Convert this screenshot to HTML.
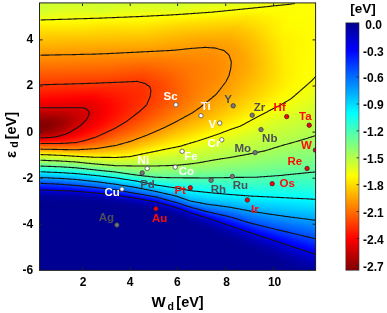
<!DOCTYPE html>
<html><head><meta charset="utf-8"><style>
html,body{margin:0;padding:0;background:#fff;width:387px;height:313px;overflow:hidden}
#hm{position:absolute;left:40px;top:3px;width:276px;height:267px}
#hm i{display:block;height:1px;width:100%}
#cb{position:absolute;left:346px;top:22.8px;width:13px;height:247.5px;background:linear-gradient(180deg,#00008f 0.00%,#00009f 1.59%,#0000af 3.17%,#0000bf 4.76%,#0000cf 6.35%,#0000df 7.94%,#0000ef 9.52%,#0000ff 11.11%,#0010ff 12.70%,#0020ff 14.29%,#0030ff 15.87%,#0040ff 17.46%,#0050ff 19.05%,#0060ff 20.63%,#0070ff 22.22%,#0080ff 23.81%,#008fff 25.40%,#009fff 26.98%,#00afff 28.57%,#00bfff 30.16%,#00cfff 31.75%,#00dfff 33.33%,#00efff 34.92%,#00ffff 36.51%,#10ffef 38.10%,#20ffdf 39.68%,#30ffcf 41.27%,#40ffbf 42.86%,#50ffaf 44.44%,#60ff9f 46.03%,#70ff8f 47.62%,#80ff80 49.21%,#8fff70 50.79%,#9fff60 52.38%,#afff50 53.97%,#bfff40 55.56%,#cfff30 57.14%,#dfff20 58.73%,#efff10 60.32%,#ffff00 61.90%,#ffef00 63.49%,#ffdf00 65.08%,#ffcf00 66.67%,#ffbf00 68.25%,#ffaf00 69.84%,#ff9f00 71.43%,#ff8f00 73.02%,#ff8000 74.60%,#ff7000 76.19%,#ff6000 77.78%,#ff5000 79.37%,#ff4000 80.95%,#ff3000 82.54%,#ff2000 84.13%,#ff1000 85.71%,#ff0000 87.30%,#ef0000 88.89%,#df0000 90.48%,#cf0000 92.06%,#bf0000 93.65%,#af0000 95.24%,#9f0000 96.83%,#8f0000 98.41%,#800000 100.00%)}
svg{position:absolute;left:0;top:0}
text{font-family:"Liberation Sans",Arial,sans-serif;font-weight:bold}
</style></head><body>
<div id="hm">
<i style="background:linear-gradient(90deg,#ceff31 0.5px,#d1ff2e 45.5px,#d2ff2d 72.5px,#d6ff29 110.5px,#d4ff2b 138.5px,#ddff22 188.5px,#dfff20 202.5px,#f3ff0c 230.5px,#fcff03 275.5px)"></i>
<i style="background:linear-gradient(90deg,#ceff31 0.5px,#d3ff2c 40.5px,#d3ff2c 71.5px,#d9ff26 107.5px,#d4ff2b 133.5px,#deff21 170.5px,#e4ff1b 203.5px,#f5ff0a 230.5px,#fcff03 275.5px)"></i>
<i style="background:linear-gradient(90deg,#cfff30 0.5px,#d6ff29 38.5px,#d1ff2e 63.5px,#dbff24 97.5px,#d6ff29 134.5px,#e1ff1e 167.5px,#eaff15 205.5px,#f7ff08 232.5px,#fcff03 275.5px)"></i>
<i style="background:linear-gradient(90deg,#cfff30 0.5px,#d8ff27 36.5px,#d2ff2d 63.5px,#ddff22 92.5px,#d9ff26 122.5px,#d7ff28 133.5px,#e2ff1d 157.5px,#eeff11 204.5px,#faff05 240.5px,#fcff03 275.5px)"></i>
<i style="background:linear-gradient(90deg,#d0ff2f 0.5px,#daff25 33.5px,#d3ff2c 63.5px,#dfff20 89.5px,#dcff23 121.5px,#d8ff27 132.5px,#e5ff1a 154.5px,#f3ff0c 206.5px,#fbff04 240.5px,#fdff02 275.5px)"></i>
<i style="background:linear-gradient(90deg,#d0ff2f 0.5px,#dcff23 28.5px,#d6ff29 53.5px,#d6ff29 65.5px,#e1ff1e 87.5px,#dfff20 121.5px,#daff25 131.5px,#e7ff18 151.5px,#fcff03 231.5px,#fdff02 275.5px)"></i>
<i style="background:linear-gradient(90deg,#d1ff2e 0.5px,#deff21 26.5px,#d9ff26 52.5px,#d5ff2a 62.5px,#e2ff1d 81.5px,#e2ff1d 121.5px,#ddff22 131.5px,#eaff15 150.5px,#feff01 225.5px,#fdff02 275.5px)"></i>
<i style="background:linear-gradient(90deg,#d3ff2c 0.5px,#e0ff1f 26.5px,#dcff23 51.5px,#d7ff28 61.5px,#e5ff1a 83.5px,#e4ff1b 123.5px,#e2ff1d 132.5px,#eeff11 153.5px,#fffe00 214.5px,#fdff02 275.5px)"></i>
<i style="background:linear-gradient(90deg,#d4ff2b 0.5px,#e2ff1d 22.5px,#e0ff1f 49.5px,#d9ff26 61.5px,#e7ff18 79.5px,#e7ff18 125.5px,#e9ff16 135.5px,#fffc00 201.5px,#fdff02 275.5px)"></i>
<i style="background:linear-gradient(90deg,#d7ff28 0.5px,#e4ff1b 21.5px,#e3ff1c 49.5px,#ddff22 61.5px,#eaff15 81.5px,#edff12 134.5px,#fffc00 192.5px,#fff800 217.5px,#fdff02 259.5px,#fdff02 275.5px)"></i>
<i style="background:linear-gradient(90deg,#daff25 0.5px,#e7ff18 22.5px,#e5ff1a 51.5px,#e2ff1d 62.5px,#eeff11 86.5px,#f3ff0c 137.5px,#fffc00 183.5px,#fff400 211.5px,#fdff02 255.5px,#fdff02 275.5px)"></i>
<i style="background:linear-gradient(90deg,#deff21 0.5px,#eaff15 24.5px,#e7ff18 55.5px,#e9ff16 66.5px,#f2ff0d 97.5px,#fbff04 150.5px,#fffa00 179.5px,#fff100 207.5px,#feff01 256.5px,#fdff02 275.5px)"></i>
<i style="background:linear-gradient(90deg,#e2ff1d 0.5px,#edff12 25.5px,#edff12 65.5px,#f7ff08 115.5px,#fffb00 167.5px,#ffed00 206.5px,#feff01 254.5px,#fdff02 275.5px)"></i>
<i style="background:linear-gradient(90deg,#e7ff18 0.5px,#f0ff0f 30.5px,#f3ff0c 70.5px,#fffc00 146.5px,#ffea00 206.5px,#ffff00 253.5px,#fdff02 275.5px)"></i>
<i style="background:linear-gradient(90deg,#ecff13 0.5px,#f4ff0b 45.5px,#fffc00 124.5px,#ffed00 181.5px,#ffe700 207.5px,#ffff00 252.5px,#fdff02 275.5px)"></i>
<i style="background:linear-gradient(90deg,#f1ff0e 0.5px,#fffc00 116.5px,#fff400 142.5px,#ffe600 188.5px,#ffe600 211.5px,#fffd00 247.5px,#fdff02 275.5px)"></i>
<i style="background:linear-gradient(90deg,#f6ff09 0.5px,#fffe00 88.5px,#fff400 124.5px,#ffe600 179.5px,#ffe100 204.5px,#fffe00 250.5px,#fdff02 275.5px)"></i>
<i style="background:linear-gradient(90deg,#fbff04 0.5px,#fffc00 56.5px,#fff700 110.5px,#ffec00 138.5px,#ffe200 180.5px,#ffde00 204.5px,#fffd00 249.5px,#fdff02 275.5px)"></i>
<i style="background:linear-gradient(90deg,#ffff00 0.5px,#fffa00 50.5px,#fff800 72.5px,#fff300 112.5px,#ffe800 138.5px,#ffde00 180.5px,#ffdb00 204.5px,#fffc00 247.5px,#fdff02 275.5px)"></i>
<i style="background:linear-gradient(90deg,#fffb00 0.5px,#fff700 48.5px,#fff400 69.5px,#fff100 108.5px,#ffe400 138.5px,#ffdb00 179.5px,#ffd800 203.5px,#fffc00 247.5px,#fdff02 275.5px)"></i>
<i style="background:linear-gradient(90deg,#fff700 0.5px,#fff500 44.5px,#ffef00 67.5px,#ffef00 105.5px,#ffe000 139.5px,#ffd400 200.5px,#ffeb00 227.5px,#fffc00 248.5px,#fdff02 275.5px)"></i>
<i style="background:linear-gradient(90deg,#fff300 0.5px,#fff200 43.5px,#ffeb00 65.5px,#ffee00 97.5px,#ffdc00 140.5px,#ffd100 199.5px,#ffe600 223.5px,#fffb00 247.5px,#feff01 275.5px)"></i>
<i style="background:linear-gradient(90deg,#ffef00 0.5px,#ffef00 41.5px,#ffe800 67.5px,#ffea00 100.5px,#ffd900 139.5px,#ffce00 198.5px,#ffe300 222.5px,#fffa00 245.5px,#feff01 275.5px)"></i>
<i style="background:linear-gradient(90deg,#ffec00 0.5px,#ffeb00 43.5px,#ffe400 65.5px,#ffe700 100.5px,#ffd500 139.5px,#ffcb00 197.5px,#ffe000 221.5px,#fffa00 245.5px,#feff01 275.5px)"></i>
<i style="background:linear-gradient(90deg,#ffe800 0.5px,#ffe800 42.5px,#ffe100 66.5px,#ffe400 99.5px,#ffd200 139.5px,#ffc800 196.5px,#ffdc00 219.5px,#fff900 244.5px,#feff01 275.5px)"></i>
<i style="background:linear-gradient(90deg,#ffe500 0.5px,#ffe400 43.5px,#ffde00 67.5px,#ffe100 99.5px,#ffce00 141.5px,#ffc500 194.5px,#ffd400 214.5px,#fff800 243.5px,#feff01 275.5px)"></i>
<i style="background:linear-gradient(90deg,#ffe200 0.5px,#ffe100 43.5px,#ffdb00 68.5px,#ffde00 98.5px,#ffcb00 141.5px,#ffc200 193.5px,#ffd200 213.5px,#fff700 242.5px,#feff01 275.5px)"></i>
<i style="background:linear-gradient(90deg,#ffde00 0.5px,#ffde00 42.5px,#ffd800 68.5px,#ffda00 100.5px,#ffc700 143.5px,#ffc000 192.5px,#ffcd00 211.5px,#fff600 242.5px,#feff01 275.5px)"></i>
<i style="background:linear-gradient(90deg,#ffdb00 0.5px,#ffdb00 41.5px,#ffd500 68.5px,#ffd700 100.5px,#ffc400 143.5px,#ffbc00 190.5px,#ffcc00 211.5px,#fff600 242.5px,#feff01 275.5px)"></i>
<i style="background:linear-gradient(90deg,#ffd800 0.5px,#ffd700 43.5px,#ffd200 68.5px,#ffd200 105.5px,#ffc100 143.5px,#ffba00 190.5px,#ffca00 211.5px,#fff500 242.5px,#feff01 275.5px)"></i>
<i style="background:linear-gradient(90deg,#ffd500 0.5px,#ffd400 43.5px,#ffcf00 68.5px,#ffcf00 105.5px,#ffbd00 145.5px,#ffb700 190.5px,#ffc900 211.5px,#fff500 242.5px,#feff01 275.5px)"></i>
<i style="background:linear-gradient(90deg,#ffd200 0.5px,#ffd100 42.5px,#ffcd00 70.5px,#ffcc00 105.5px,#ffba00 146.5px,#ffb400 187.5px,#ffc400 209.5px,#fff300 241.5px,#feff01 275.5px)"></i>
<i style="background:linear-gradient(90deg,#ffcf00 0.5px,#ffce00 42.5px,#ffca00 72.5px,#ffc900 105.5px,#ffb700 147.5px,#ffb200 188.5px,#ffc200 208.5px,#fff300 241.5px,#feff01 275.5px)"></i>
<i style="background:linear-gradient(90deg,#ffcc00 0.5px,#ffca00 45.5px,#ffc700 72.5px,#ffc600 105.5px,#ffb300 150.5px,#ffb000 187.5px,#ffbf00 207.5px,#fff400 243.5px,#feff01 275.5px)"></i>
<i style="background:linear-gradient(90deg,#ffc900 0.5px,#ffc700 45.5px,#ffc200 107.5px,#ffaf00 155.5px,#ffaf00 191.5px,#ffc700 214.5px,#fff100 241.5px,#ffff00 274.5px,#ffff00 275.5px)"></i>
<i style="background:linear-gradient(90deg,#ffc600 0.5px,#ffc400 46.5px,#ffbf00 107.5px,#ffac00 157.5px,#ffac00 189.5px,#ffc300 212.5px,#fff200 242.5px,#ffff00 275.5px)"></i>
<i style="background:linear-gradient(90deg,#ffc300 0.5px,#ffc100 46.5px,#ffbc00 107.5px,#ffa900 159.5px,#ffaa00 189.5px,#ffc000 211.5px,#fff000 241.5px,#fffe00 271.5px,#ffff00 275.5px)"></i>
<i style="background:linear-gradient(90deg,#ffc000 0.5px,#ffbd00 51.5px,#ffb900 107.5px,#ffa600 162.5px,#ffa800 189.5px,#ffbf00 211.5px,#fff100 242.5px,#ffff00 275.5px)"></i>
<i style="background:linear-gradient(90deg,#ffbd00 0.5px,#ffba00 52.5px,#ffb600 107.5px,#ffa300 165.5px,#ffa700 190.5px,#ffbc00 210.5px,#ffef00 241.5px,#fffe00 271.5px,#ffff00 275.5px)"></i>
<i style="background:linear-gradient(90deg,#ffba00 0.5px,#ffb700 54.5px,#ffb300 107.5px,#ffa000 168.5px,#ffa800 194.5px,#ffc500 216.5px,#fff000 242.5px,#ffff00 275.5px)"></i>
<i style="background:linear-gradient(90deg,#ffb800 0.5px,#ffb000 107.5px,#ff9e00 169.5px,#ffa600 193.5px,#ffbf00 213.5px,#ffee00 241.5px,#fffc00 266.5px,#ffff00 275.5px)"></i>
<i style="background:linear-gradient(90deg,#ffb500 0.5px,#ffad00 107.5px,#ff9c00 168.5px,#ffa400 193.5px,#ffc100 215.5px,#ffee00 241.5px,#fffc00 266.5px,#ffff00 275.5px)"></i>
<i style="background:linear-gradient(90deg,#ffb200 0.5px,#ffaa00 107.5px,#ff9a00 169.5px,#ffa300 193.5px,#ffc000 215.5px,#ffec00 240.5px,#fffb00 262.5px,#ffff00 275.5px)"></i>
<i style="background:linear-gradient(90deg,#ffaf00 0.5px,#ffa600 110.5px,#ff9800 171.5px,#ffa400 195.5px,#ffc100 216.5px,#ffed00 241.5px,#fffb00 263.5px,#ffff00 275.5px)"></i>
<i style="background:linear-gradient(90deg,#ffac00 0.5px,#ffa300 110.5px,#ff9700 168.5px,#ffa000 192.5px,#ffbb00 213.5px,#ffee00 242.5px,#fffe00 270.5px,#ffff00 275.5px)"></i>
<i style="background:linear-gradient(90deg,#ffaa00 0.5px,#ff9f00 114.5px,#ff9500 172.5px,#ffa100 195.5px,#ffc200 217.5px,#ffec00 241.5px,#fffa00 260.5px,#ffff00 275.5px)"></i>
<i style="background:linear-gradient(90deg,#ffa700 0.5px,#ff9c00 114.5px,#ff9400 170.5px,#ff9f00 194.5px,#ffbf00 216.5px,#ffed00 242.5px,#fffc00 264.5px,#feff01 275.5px)"></i>
<i style="background:linear-gradient(90deg,#ffa400 0.5px,#ff9900 114.5px,#ff9200 172.5px,#ffa100 197.5px,#ffc600 220.5px,#ffee00 243.5px,#fffc00 265.5px,#feff01 275.5px)"></i>
<i style="background:linear-gradient(90deg,#ffa100 0.5px,#ff9600 114.5px,#ff9100 173.5px,#ffa200 198.5px,#ffc200 218.5px,#ffee00 243.5px,#fffc00 265.5px,#feff01 275.5px)"></i>
<i style="background:linear-gradient(90deg,#ff9e00 0.5px,#ff9400 106.5px,#ff9000 172.5px,#ff9f00 196.5px,#ffbf00 217.5px,#ffee00 243.5px,#fffd00 266.5px,#feff01 275.5px)"></i>
<i style="background:linear-gradient(90deg,#ff9b00 0.5px,#ff9200 97.5px,#ff8f00 173.5px,#ffa100 199.5px,#ffca00 223.5px,#fff000 245.5px,#fffe00 270.5px,#feff01 275.5px)"></i>
<i style="background:linear-gradient(90deg,#ff9800 0.5px,#ff8f00 94.5px,#ff8d00 171.5px,#ffa000 198.5px,#ffc000 218.5px,#ffef00 244.5px,#fffd00 267.5px,#feff01 275.5px)"></i>
<i style="background:linear-gradient(90deg,#ff9500 0.5px,#ff8d00 86.5px,#ff8a00 146.5px,#ff8f00 178.5px,#ffa500 203.5px,#ffef00 244.5px,#fffc00 264.5px,#feff01 275.5px)"></i>
<i style="background:linear-gradient(90deg,#ff9200 0.5px,#ff8a00 84.5px,#ff8700 127.5px,#ff8d00 175.5px,#ffa200 201.5px,#ffd300 228.5px,#fff300 248.5px,#feff01 275.5px)"></i>
<i style="background:linear-gradient(90deg,#ff8f00 0.5px,#ff8700 82.5px,#ff8400 125.5px,#ff8c00 175.5px,#ffa400 203.5px,#fff000 245.5px,#fffe00 269.5px,#feff01 275.5px)"></i>
<i style="background:linear-gradient(90deg,#ff8c00 0.5px,#ff8500 76.5px,#ff8000 116.5px,#ff8c00 176.5px,#ffa800 206.5px,#fff000 245.5px,#fffe00 269.5px,#feff01 275.5px)"></i>
<i style="background:linear-gradient(90deg,#ff8900 0.5px,#ff8200 75.5px,#ff7c00 113.5px,#ff8b00 175.5px,#ffa500 204.5px,#ffee00 244.5px,#fffc00 262.5px,#fdff02 275.5px)"></i>
<i style="background:linear-gradient(90deg,#ff8600 0.5px,#ff7f00 74.5px,#ff7900 111.5px,#ff8b00 176.5px,#ffa600 205.5px,#ffee00 244.5px,#fffc00 262.5px,#fdff02 275.5px)"></i>
<i style="background:linear-gradient(90deg,#ff8300 0.5px,#ff7c00 72.5px,#ff7500 110.5px,#ff8b00 177.5px,#ffa900 207.5px,#ffee00 244.5px,#fffc00 262.5px,#fdff02 275.5px)"></i>
<i style="background:linear-gradient(90deg,#ff8000 0.5px,#ff7900 71.5px,#ff7200 107.5px,#ff8a00 176.5px,#ffa900 207.5px,#ffee00 244.5px,#fffd00 265.5px,#fdff02 275.5px)"></i>
<i style="background:linear-gradient(90deg,#ff7c00 0.5px,#ff7600 70.5px,#ff6e00 108.5px,#ff8100 158.5px,#ff9000 184.5px,#ffac00 209.5px,#ffee00 244.5px,#fffe00 266.5px,#fdff02 275.5px)"></i>
<i style="background:linear-gradient(90deg,#ff7900 0.5px,#ff7300 69.5px,#ff6a00 104.5px,#ff8100 160.5px,#ff9300 187.5px,#ffac00 209.5px,#ffef00 245.5px,#fffe00 267.5px,#fcff03 275.5px)"></i>
<i style="background:linear-gradient(90deg,#ff7600 0.5px,#ff7000 68.5px,#ff6700 105.5px,#ff8000 159.5px,#ff8f00 183.5px,#ffac00 209.5px,#ffef00 245.5px,#ffff00 269.5px,#fcff03 275.5px)"></i>
<i style="background:linear-gradient(90deg,#ff7300 0.5px,#ff6d00 67.5px,#ff6400 103.5px,#ff7500 135.5px,#ff8b00 179.5px,#ffab00 208.5px,#ffed00 244.5px,#fffe00 265.5px,#fcff03 275.5px)"></i>
<i style="background:linear-gradient(90deg,#ff6f00 0.5px,#ff6b00 62.5px,#ff6000 104.5px,#ff7e00 156.5px,#ff8c00 180.5px,#ffab00 208.5px,#ffed00 244.5px,#fffe00 265.5px,#fcff03 275.5px)"></i>
<i style="background:linear-gradient(90deg,#ff6c00 0.5px,#ff6700 65.5px,#ff5d00 103.5px,#ff7000 133.5px,#ff8b00 179.5px,#ffaa00 207.5px,#ffed00 244.5px,#fffe00 265.5px,#fbff04 275.5px)"></i>
<i style="background:linear-gradient(90deg,#ff6900 0.5px,#ff6400 64.5px,#ff5900 102.5px,#ff6c00 130.5px,#ff7d00 157.5px,#ff8b00 179.5px,#ffac00 208.5px,#ffed00 244.5px,#fffe00 265.5px,#fbff04 275.5px)"></i>
<i style="background:linear-gradient(90deg,#ff6600 0.5px,#ff6100 63.5px,#ff5600 103.5px,#ff6b00 131.5px,#ff7c00 156.5px,#ff8c00 180.5px,#ffae00 209.5px,#ffed00 244.5px,#ffff00 266.5px,#fbff04 275.5px)"></i>
<i style="background:linear-gradient(90deg,#ff6300 0.5px,#ff5d00 65.5px,#ff5300 103.5px,#ff6900 131.5px,#ff7c00 156.5px,#ff8a00 178.5px,#ffad00 208.5px,#ffed00 244.5px,#ffff00 266.5px,#faff05 275.5px)"></i>
<i style="background:linear-gradient(90deg,#ff5f00 0.5px,#ff5a00 64.5px,#ff5000 102.5px,#ff6200 126.5px,#ff7a00 152.5px,#ff8700 175.5px,#ffaf00 209.5px,#ffee00 245.5px,#ffff00 266.5px,#faff05 275.5px)"></i>
<i style="background:linear-gradient(90deg,#ff5c00 0.5px,#ff5700 63.5px,#ff4d00 101.5px,#ff5d00 123.5px,#ff7a00 153.5px,#ff8800 176.5px,#ffb100 210.5px,#ffed00 244.5px,#ffff00 266.5px,#faff05 275.5px)"></i>
<i style="background:linear-gradient(90deg,#ff5900 0.5px,#ff5300 65.5px,#ff4a00 102.5px,#ff5e00 126.5px,#ff7b00 155.5px,#ff8800 176.5px,#ffb200 210.5px,#ffed00 244.5px,#feff01 266.5px,#f9ff06 275.5px)"></i>
<i style="background:linear-gradient(90deg,#ff5600 0.5px,#ff5000 64.5px,#ff4700 102.5px,#ff5b00 125.5px,#ff7a00 153.5px,#ff8700 175.5px,#ffb300 210.5px,#ffef00 245.5px,#feff01 266.5px,#f9ff06 275.5px)"></i>
<i style="background:linear-gradient(90deg,#ff5200 0.5px,#ff4d00 63.5px,#ff4400 101.5px,#ff5800 124.5px,#ff7900 152.5px,#ff8700 174.5px,#ffb200 209.5px,#ffef00 245.5px,#feff01 266.5px,#f8ff07 275.5px)"></i>
<i style="background:linear-gradient(90deg,#ff4f00 0.5px,#ff4900 65.5px,#ff4200 101.5px,#ff5400 122.5px,#ff7900 152.5px,#ff8900 176.5px,#ffb600 211.5px,#ffef00 245.5px,#feff01 265.5px,#f8ff07 275.5px)"></i>
<i style="background:linear-gradient(90deg,#ff4c00 0.5px,#ff4500 67.5px,#ff3f00 101.5px,#ff5900 127.5px,#ff7800 151.5px,#ff8800 175.5px,#ffb700 211.5px,#ffee00 244.5px,#feff01 264.5px,#f7ff08 275.5px)"></i>
<i style="background:linear-gradient(90deg,#ff4800 0.5px,#ff4100 71.5px,#ff3d00 102.5px,#ff5600 126.5px,#ff7800 151.5px,#ff8900 175.5px,#ffb800 211.5px,#fff100 246.5px,#fdff02 265.5px,#f6ff09 275.5px)"></i>
<i style="background:linear-gradient(90deg,#ff4500 0.5px,#ff3c00 81.5px,#ff3c00 104.5px,#ff5500 126.5px,#ff7900 153.5px,#ff8b00 176.5px,#ffb900 211.5px,#fff000 245.5px,#fdff02 264.5px,#f6ff09 275.5px)"></i>
<i style="background:linear-gradient(90deg,#ff4200 0.5px,#ff3900 102.5px,#ff4e00 122.5px,#ff7800 152.5px,#ff8e00 178.5px,#ffba00 211.5px,#fff200 246.5px,#fdff02 263.5px,#f5ff0a 275.5px)"></i>
<i style="background:linear-gradient(90deg,#ff3f00 0.5px,#ff3700 101.5px,#ff4b00 121.5px,#ff7700 151.5px,#ff8f00 179.5px,#ffc200 215.5px,#fff200 246.5px,#fdff02 262.5px,#f4ff0b 275.5px)"></i>
<i style="background:linear-gradient(90deg,#ff3b00 0.5px,#ff3400 99.5px,#ff4a00 121.5px,#ff7800 152.5px,#ff9100 180.5px,#ffc600 217.5px,#fff400 247.5px,#fcff03 262.5px,#f3ff0c 275.5px)"></i>
<i style="background:linear-gradient(90deg,#ff3800 0.5px,#ff3200 98.5px,#ff4300 117.5px,#ff7900 153.5px,#ff9d00 189.5px,#fff700 249.5px,#fbff04 263.5px,#f2ff0d 275.5px)"></i>
<i style="background:linear-gradient(90deg,#ff3500 0.5px,#ff2f00 84.5px,#ff3600 106.5px,#ff5500 129.5px,#ff7a00 154.5px,#ff9900 185.5px,#ffd300 223.5px,#fff900 251.5px,#faff05 263.5px,#f1ff0e 275.5px)"></i>
<i style="background:linear-gradient(90deg,#ff3100 0.5px,#ff2c00 73.5px,#ff3300 104.5px,#ff4e00 125.5px,#ff7900 153.5px,#ff9a00 185.5px,#ffd900 226.5px,#ffff00 256.5px,#f0ff0f 275.5px)"></i>
<i style="background:linear-gradient(90deg,#ff2e00 0.5px,#ff2800 66.5px,#ff3100 102.5px,#ff4700 121.5px,#ff7800 152.5px,#ff9f00 188.5px,#fff400 245.5px,#fdff02 258.5px,#efff10 275.5px)"></i>
<i style="background:linear-gradient(90deg,#ff2b00 0.5px,#ff2400 61.5px,#ff3000 102.5px,#ff4800 122.5px,#ff7800 152.5px,#ffa000 188.5px,#fff500 245.5px,#fdff02 257.5px,#eeff11 275.5px)"></i>
<i style="background:linear-gradient(90deg,#ff2700 0.5px,#ff2000 60.5px,#ff3000 103.5px,#ff4b00 124.5px,#ff7800 152.5px,#ffa400 190.5px,#fff500 244.5px,#fbff04 258.5px,#edff12 275.5px)"></i>
<i style="background:linear-gradient(90deg,#ff2400 0.5px,#ff1c00 57.5px,#ff2f00 102.5px,#ff4800 122.5px,#ff7a00 153.5px,#ffa400 189.5px,#fff600 244.5px,#fbff04 257.5px,#ecff13 275.5px)"></i>
<i style="background:linear-gradient(90deg,#ff2000 0.5px,#ff1800 56.5px,#ff3000 104.5px,#ff5400 129.5px,#ff7a00 153.5px,#ffa800 191.5px,#fff600 243.5px,#fbff04 256.5px,#ebff14 275.5px)"></i>
<i style="background:linear-gradient(90deg,#ff1d00 0.5px,#ff1400 41.5px,#ff1800 64.5px,#ff3000 104.5px,#ff5400 129.5px,#ff7d00 155.5px,#ffab00 192.5px,#fff300 240.5px,#fcff03 254.5px,#eaff15 275.5px)"></i>
<i style="background:linear-gradient(90deg,#ff1900 0.5px,#ff1300 33.5px,#ff1000 54.5px,#ff2f00 103.5px,#ff5100 127.5px,#ff7e00 155.5px,#ffab00 191.5px,#fff300 239.5px,#fcff03 253.5px,#e9ff16 275.5px)"></i>
<i style="background:linear-gradient(90deg,#ff1600 0.5px,#ff0e00 35.5px,#ff0e00 57.5px,#ff3000 104.5px,#ff5a00 132.5px,#ff8100 157.5px,#ffae00 192.5px,#fff600 240.5px,#fbff04 253.5px,#e7ff18 275.5px)"></i>
<i style="background:linear-gradient(90deg,#ff1200 0.5px,#ff0c00 31.5px,#ff0800 52.5px,#ff3100 105.5px,#ff5b00 132.5px,#ff8800 162.5px,#ffb300 194.5px,#fff600 239.5px,#fcff03 251.5px,#e6ff19 275.5px)"></i>
<i style="background:linear-gradient(90deg,#ff0e00 0.5px,#ff0900 29.5px,#ff0300 49.5px,#ff3100 105.5px,#ff6100 135.5px,#ff8900 162.5px,#ffbb00 198.5px,#fff600 238.5px,#fbff04 250.5px,#e5ff1a 275.5px)"></i>
<i style="background:linear-gradient(90deg,#ff0a00 0.5px,#ff0600 28.5px,#ff0000 50.5px,#ff3000 104.5px,#ff6000 134.5px,#ff8e00 165.5px,#ffc800 205.5px,#fffa00 240.5px,#f8ff07 252.5px,#e4ff1b 275.5px)"></i>
<i style="background:linear-gradient(90deg,#ff0600 0.5px,#ff0300 26.5px,#fc0000 50.5px,#ff0900 65.5px,#ff3700 109.5px,#ff8500 157.5px,#ffbd00 197.5px,#fff700 236.5px,#fbff04 248.5px,#e2ff1d 275.5px)"></i>
<i style="background:linear-gradient(90deg,#ff0200 0.5px,#fc0000 30.5px,#f70000 48.5px,#ff0400 62.5px,#ff3900 110.5px,#ff8600 157.5px,#ffc700 202.5px,#fff800 236.5px,#fbff04 246.5px,#e1ff1e 275.5px)"></i>
<i style="background:linear-gradient(90deg,#fd0000 0.5px,#fa0000 26.5px,#f30000 47.5px,#ff0300 63.5px,#ff3e00 113.5px,#ff8600 156.5px,#ffce00 205.5px,#fffb00 237.5px,#f3ff0c 253.5px,#e0ff1f 275.5px)"></i>
<i style="background:linear-gradient(90deg,#f90000 0.5px,#f40000 31.5px,#f00000 48.5px,#ff0200 64.5px,#ff3f00 113.5px,#ff8600 155.5px,#ffd000 205.5px,#fffe00 238.5px,#deff21 275.5px)"></i>
<i style="background:linear-gradient(90deg,#f50000 0.5px,#f00000 31.5px,#ec0000 47.5px,#ff0300 66.5px,#ff4200 114.5px,#ff8900 156.5px,#ffd700 208.5px,#feff01 238.5px,#ddff22 275.5px)"></i>
<i style="background:linear-gradient(90deg,#f00000 0.5px,#eb0000 34.5px,#eb0000 49.5px,#ff0300 67.5px,#ff4600 116.5px,#ff8900 155.5px,#fffb00 232.5px,#f3ff0c 248.5px,#dbff24 275.5px)"></i>
<i style="background:linear-gradient(90deg,#ec0000 0.5px,#e50000 41.5px,#ec0000 53.5px,#ff0200 67.5px,#ff4600 115.5px,#ff8c00 156.5px,#fffd00 232.5px,#daff25 275.5px)"></i>
<i style="background:linear-gradient(90deg,#e70000 0.5px,#e30000 47.5px,#ff0300 68.5px,#ff4900 116.5px,#ff8e00 156.5px,#fffb00 229.5px,#f6ff09 241.5px,#d9ff26 275.5px)"></i>
<i style="background:linear-gradient(90deg,#e20000 0.5px,#e00000 46.5px,#ff0200 68.5px,#ff4b00 116.5px,#ff8e00 155.5px,#fffd00 229.5px,#d7ff28 275.5px)"></i>
<i style="background:linear-gradient(90deg,#dc0000 0.5px,#de0000 46.5px,#ff0200 68.5px,#ff5000 118.5px,#ff9000 155.5px,#fffd00 227.5px,#d6ff29 275.5px)"></i>
<i style="background:linear-gradient(90deg,#d70000 0.5px,#dc0000 46.5px,#ff0200 68.5px,#ff5600 120.5px,#ff9800 159.5px,#ffff00 227.5px,#d4ff2b 275.5px)"></i>
<i style="background:linear-gradient(90deg,#d10000 0.5px,#d70000 42.5px,#ed0000 58.5px,#ff0200 68.5px,#ff5800 120.5px,#ff9a00 159.5px,#ffff00 225.5px,#d3ff2c 275.5px)"></i>
<i style="background:linear-gradient(90deg,#cb0000 0.5px,#d00000 32.5px,#de0000 50.5px,#ff0200 68.5px,#ff6000 123.5px,#ffa900 167.5px,#ffff00 223.5px,#d1ff2e 275.5px)"></i>
<i style="background:linear-gradient(90deg,#c40000 0.5px,#ca0000 28.5px,#dd0000 50.5px,#ff0200 68.5px,#ff7100 131.5px,#fffe00 221.5px,#d0ff2f 274.5px,#d0ff2f 275.5px)"></i>
<i style="background:linear-gradient(90deg,#be0000 0.5px,#c30000 24.5px,#dd0000 50.5px,#ff0300 68.5px,#ff9800 153.5px,#feff01 220.5px,#d2ff2d 269.5px,#ceff31 275.5px)"></i>
<i style="background:linear-gradient(90deg,#b80000 0.5px,#bd0000 23.5px,#dd0000 50.5px,#ff0100 67.5px,#ff9400 149.5px,#ffff00 218.5px,#d7ff28 260.5px,#cdff32 275.5px)"></i>
<i style="background:linear-gradient(90deg,#b10000 0.5px,#b70000 22.5px,#e10000 52.5px,#ff0200 67.5px,#ff5300 111.5px,#ff9d00 153.5px,#feff01 217.5px,#daff25 254.5px,#cbff34 275.5px)"></i>
<i style="background:linear-gradient(90deg,#ab0000 0.5px,#b10000 21.5px,#e60000 54.5px,#ff0200 66.5px,#ff9800 148.5px,#feff01 215.5px,#d9ff26 253.5px,#caff35 275.5px)"></i>
<i style="background:linear-gradient(90deg,#a50000 0.5px,#ab0000 20.5px,#f20000 59.5px,#ff0300 66.5px,#ff9000 141.5px,#feff01 213.5px,#d8ff27 252.5px,#c8ff37 275.5px)"></i>
<i style="background:linear-gradient(90deg,#a00000 0.5px,#a20000 15.5px,#b80000 29.5px,#ff0200 65.5px,#ff5400 107.5px,#ffa400 152.5px,#ffff00 211.5px,#d7ff28 251.5px,#c7ff38 275.5px)"></i>
<i style="background:linear-gradient(90deg,#9a0000 0.5px,#9d0000 14.5px,#ab0000 24.5px,#ff0200 64.5px,#ff5500 106.5px,#ffa700 152.5px,#fdff02 210.5px,#d9ff26 246.5px,#c5ff3a 275.5px)"></i>
<i style="background:linear-gradient(90deg,#960000 0.5px,#960000 10.5px,#a20000 21.5px,#e70000 52.5px,#ff0200 63.5px,#ff6b00 116.5px,#ffb900 161.5px,#feff01 208.5px,#deff21 237.5px,#c4ff3b 275.5px)"></i>
<i style="background:linear-gradient(90deg,#910000 0.5px,#920000 10.5px,#9f0000 21.5px,#d90000 44.5px,#ff0100 62.5px,#ff4600 95.5px,#ffa900 149.5px,#ffff00 205.5px,#dcff23 237.5px,#c2ff3d 275.5px)"></i>
<i style="background:linear-gradient(90deg,#8d0000 0.5px,#8e0000 9.5px,#9e0000 21.5px,#d60000 42.5px,#ff0200 61.5px,#ff5900 103.5px,#ffb100 152.5px,#feff01 204.5px,#daff25 237.5px,#c1ff3e 275.5px)"></i>
<i style="background:linear-gradient(90deg,#8a0000 0.5px,#8a0000 8.5px,#9a0000 20.5px,#cf0000 38.5px,#ff0200 60.5px,#ff5100 97.5px,#ffb600 153.5px,#fffe00 201.5px,#d8ff27 237.5px,#bfff40 275.5px)"></i>
<i style="background:linear-gradient(90deg,#870000 0.5px,#870000 7.5px,#9a0000 20.5px,#d60000 40.5px,#ff0200 59.5px,#ff4a00 92.5px,#ffb300 149.5px,#fffe00 199.5px,#d7ff28 236.5px,#beff41 275.5px)"></i>
<i style="background:linear-gradient(90deg,#860000 0.5px,#850000 7.5px,#9c0000 20.5px,#d40000 38.5px,#ff0300 58.5px,#ff4b00 91.5px,#ffb200 146.5px,#fffd00 196.5px,#d5ff2a 236.5px,#bcff43 275.5px)"></i>
<i style="background:linear-gradient(90deg,#850000 0.5px,#850000 7.5px,#a10000 21.5px,#d70000 38.5px,#ff0100 56.5px,#ff4500 86.5px,#ffb400 145.5px,#ffff00 195.5px,#d6ff29 232.5px,#baff45 275.5px)"></i>
<i style="background:linear-gradient(90deg,#850000 0.5px,#850000 6.5px,#a30000 21.5px,#d50000 36.5px,#ff0200 55.5px,#ff4900 86.5px,#ffb600 144.5px,#ffff00 192.5px,#d5ff2a 231.5px,#b9ff46 275.5px)"></i>
<i style="background:linear-gradient(90deg,#870000 0.5px,#860000 6.5px,#a10000 19.5px,#db0000 37.5px,#ff0100 53.5px,#ff4200 81.5px,#ffb500 141.5px,#feff01 190.5px,#d0ff2f 235.5px,#b7ff48 275.5px)"></i>
<i style="background:linear-gradient(90deg,#8a0000 0.5px,#890000 6.5px,#a80000 20.5px,#dc0000 36.5px,#ff0200 52.5px,#ff4000 78.5px,#ffb900 141.5px,#fdff02 188.5px,#ceff31 235.5px,#b6ff49 275.5px)"></i>
<i style="background:linear-gradient(90deg,#8e0000 0.5px,#8e0000 6.5px,#a70000 18.5px,#e00000 36.5px,#ff0200 50.5px,#ff4800 80.5px,#ffb600 137.5px,#feff01 185.5px,#cfff30 231.5px,#b4ff4b 275.5px)"></i>
<i style="background:linear-gradient(90deg,#930000 0.5px,#930000 6.5px,#ad0000 18.5px,#e20000 35.5px,#ff0100 48.5px,#ff4400 76.5px,#ffbc00 138.5px,#ffff00 182.5px,#cdff32 231.5px,#b2ff4d 275.5px)"></i>
<i style="background:linear-gradient(90deg,#990000 0.5px,#9b0000 7.5px,#b60000 19.5px,#e90000 36.5px,#ff0100 46.5px,#ff4b00 77.5px,#ffbb00 135.5px,#fffe00 179.5px,#c9ff36 234.5px,#b1ff4e 275.5px)"></i>
<i style="background:linear-gradient(90deg,#a00000 0.5px,#a60000 9.5px,#c90000 23.5px,#f00000 37.5px,#ff0400 45.5px,#ff4d00 76.5px,#ffc100 136.5px,#ffff00 177.5px,#cdff32 226.5px,#afff50 275.5px)"></i>
<i style="background:linear-gradient(90deg,#a90000 0.5px,#ae0000 9.5px,#d60000 25.5px,#fe0000 41.5px,#ff5400 77.5px,#ffc200 134.5px,#ffff00 174.5px,#cfff30 222.5px,#aeff51 275.5px)"></i>
<i style="background:linear-gradient(90deg,#b20000 0.5px,#be0000 13.5px,#ff0000 39.5px,#ff5300 74.5px,#ffc500 133.5px,#feff01 172.5px,#d0ff2f 217.5px,#acff53 275.5px)"></i>
<i style="background:linear-gradient(90deg,#bc0000 0.5px,#ca0000 14.5px,#ff0000 36.5px,#ff5800 74.5px,#ffcd00 135.5px,#feff01 169.5px,#d2ff2d 212.5px,#aaff55 275.5px)"></i>
<i style="background:linear-gradient(90deg,#c80000 0.5px,#d70000 15.5px,#ff0200 34.5px,#ff6400 77.5px,#ffd000 134.5px,#feff01 166.5px,#d3ff2c 208.5px,#abff54 270.5px,#a8ff57 275.5px)"></i>
<i style="background:linear-gradient(90deg,#d40000 0.5px,#e50000 16.5px,#ff0200 30.5px,#ff3000 51.5px,#ff6b00 78.5px,#ffd300 133.5px,#feff01 163.5px,#d4ff2b 205.5px,#adff52 263.5px,#a7ff58 275.5px)"></i>
<i style="background:linear-gradient(90deg,#e20000 0.5px,#f40000 18.5px,#ff0300 26.5px,#ff2b00 46.5px,#ff6d00 76.5px,#ffd800 133.5px,#fdff02 161.5px,#d3ff2c 203.5px,#a9ff56 267.5px,#a5ff5a 275.5px)"></i>
<i style="background:linear-gradient(90deg,#f20000 0.5px,#ff0300 19.5px,#ff2300 39.5px,#ff6f00 74.5px,#ffda00 131.5px,#fdff02 158.5px,#d7ff28 194.5px,#a9ff56 264.5px,#a3ff5c 275.5px)"></i>
<i style="background:linear-gradient(90deg,#ff0400 0.5px,#ff1000 20.5px,#ff2900 38.5px,#ff7500 74.5px,#ffdf00 131.5px,#fdff02 155.5px,#d8ff27 189.5px,#a9ff56 261.5px,#a2ff5d 275.5px)"></i>
<i style="background:linear-gradient(90deg,#ff1500 0.5px,#ff1f00 22.5px,#ff3200 38.5px,#ff8a00 82.5px,#ffe300 130.5px,#fcff03 152.5px,#d2ff2d 194.5px,#a2ff5d 270.5px,#a0ff5f 275.5px)"></i>
<i style="background:linear-gradient(90deg,#ff2600 0.5px,#ff2d00 24.5px,#ff3c00 38.5px,#ff7e00 72.5px,#ffbe00 106.5px,#ffec00 133.5px,#fcff03 149.5px,#d4ff2b 187.5px,#a1ff5e 269.5px,#9eff61 275.5px)"></i>
<i style="background:linear-gradient(90deg,#ff3700 0.5px,#ff3a00 24.5px,#ff4600 38.5px,#ff8600 73.5px,#ffc200 105.5px,#fff000 132.5px,#fcff03 146.5px,#d5ff2a 182.5px,#9fff60 269.5px,#9cff63 275.5px)"></i>
<i style="background:linear-gradient(90deg,#ff4800 0.5px,#ff4900 26.5px,#ff5200 38.5px,#ffb600 96.5px,#ffef00 127.5px,#fdff02 142.5px,#d3ff2c 181.5px,#9bff64 273.5px,#9aff65 275.5px)"></i>
<i style="background:linear-gradient(90deg,#ff5800 0.5px,#ff5800 32.5px,#ff6e00 48.5px,#ffb300 92.5px,#ffea00 120.5px,#fdff02 138.5px,#d3ff2c 177.5px,#98ff67 275.5px)"></i>
<i style="background:linear-gradient(90deg,#ff6900 0.5px,#ff6600 28.5px,#ff6b00 38.5px,#ffb600 90.5px,#fff000 120.5px,#fcff03 135.5px,#ceff31 180.5px,#96ff69 275.5px)"></i>
<i style="background:linear-gradient(90deg,#ff7900 0.5px,#ff7500 36.5px,#ffb300 84.5px,#fff600 120.5px,#fcff03 130.5px,#cbff34 180.5px,#94ff6b 275.5px)"></i>
<i style="background:linear-gradient(90deg,#ff8b00 0.5px,#ff8400 36.5px,#ffa000 63.5px,#ffc400 90.5px,#fff600 116.5px,#fbff04 126.5px,#c8ff37 180.5px,#92ff6d 275.5px)"></i>
<i style="background:linear-gradient(90deg,#ff9e00 0.5px,#ff9300 37.5px,#ffa900 62.5px,#ffc900 89.5px,#fff800 113.5px,#fbff04 121.5px,#c6ff39 179.5px,#90ff6f 275.5px)"></i>
<i style="background:linear-gradient(90deg,#ffb100 0.5px,#ffa200 37.5px,#ffb200 61.5px,#ffd100 89.5px,#fffe00 113.5px,#caff35 169.5px,#8eff71 275.5px)"></i>
<i style="background:linear-gradient(90deg,#ffc600 0.5px,#ffb200 38.5px,#ffbc00 60.5px,#ffd900 89.5px,#ffff00 109.5px,#dfff20 141.5px,#baff45 190.5px,#8cff73 275.5px)"></i>
<i style="background:linear-gradient(90deg,#ffdc00 0.5px,#ffc200 38.5px,#ffc700 60.5px,#ffde00 87.5px,#feff01 105.5px,#e4ff1b 129.5px,#b8ff47 189.5px,#8aff75 275.5px)"></i>
<i style="background:linear-gradient(90deg,#fff100 0.5px,#ffd300 40.5px,#ffd400 61.5px,#ffe500 85.5px,#fdff02 101.5px,#e2ff1d 125.5px,#b3ff4c 193.5px,#88ff77 275.5px)"></i>
<i style="background:linear-gradient(90deg,#f9ff06 0.5px,#fffa00 15.5px,#ffe300 42.5px,#ffe100 62.5px,#ffed00 83.5px,#fffa00 93.5px,#f7ff08 100.5px,#daff25 129.5px,#acff53 201.5px,#86ff79 275.5px)"></i>
<i style="background:linear-gradient(90deg,#e7ff18 0.5px,#fffc00 32.5px,#ffed00 57.5px,#fff500 81.5px,#fdff02 92.5px,#e2ff1d 111.5px,#abff54 198.5px,#83ff7c 275.5px)"></i>
<i style="background:linear-gradient(90deg,#d8ff27 0.5px,#eaff15 26.5px,#fffe00 50.5px,#fffe00 80.5px,#f1ff0e 94.5px,#d9ff26 115.5px,#a3ff5c 209.5px,#81ff7e 275.5px)"></i>
<i style="background:linear-gradient(90deg,#caff35 0.5px,#ddff22 28.5px,#f6ff09 59.5px,#f5ff0a 80.5px,#eaff15 93.5px,#d3ff2c 116.5px,#b7ff48 166.5px,#7fff80 275.5px)"></i>
<i style="background:linear-gradient(90deg,#beff41 0.5px,#d2ff2d 32.5px,#eaff15 61.5px,#eaff15 82.5px,#ceff31 116.5px,#b7ff48 161.5px,#7cff83 275.5px)"></i>
<i style="background:linear-gradient(90deg,#b2ff4d 0.5px,#c8ff37 35.5px,#deff21 62.5px,#e1ff1e 80.5px,#c7ff38 121.5px,#b1ff4e 165.5px,#7aff85 275.5px)"></i>
<i style="background:linear-gradient(90deg,#a7ff58 0.5px,#bdff42 37.5px,#d4ff2b 64.5px,#d7ff28 80.5px,#c1ff3e 127.5px,#78ff87 275.5px)"></i>
<i style="background:linear-gradient(90deg,#9bff64 0.5px,#b0ff4f 36.5px,#caff35 64.5px,#ceff31 82.5px,#aeff51 159.5px,#75ff8a 275.5px)"></i>
<i style="background:linear-gradient(90deg,#8dff72 0.5px,#a6ff59 37.5px,#c2ff3d 67.5px,#c5ff3a 85.5px,#aeff51 153.5px,#90ff6f 213.5px,#73ff8c 275.5px)"></i>
<i style="background:linear-gradient(90deg,#80ff7f 0.5px,#96ff69 34.5px,#b8ff47 66.5px,#bdff42 82.5px,#acff53 150.5px,#8eff71 210.5px,#70ff8f 275.5px)"></i>
<i style="background:linear-gradient(90deg,#71ff8e 0.5px,#88ff77 33.5px,#aeff51 66.5px,#b5ff4a 81.5px,#aaff55 145.5px,#8cff73 206.5px,#6dff92 275.5px)"></i>
<i style="background:linear-gradient(90deg,#62ff9d 0.5px,#7bff84 35.5px,#a3ff5c 65.5px,#acff53 81.5px,#a9ff56 136.5px,#88ff77 208.5px,#6bff94 275.5px)"></i>
<i style="background:linear-gradient(90deg,#52ffad 0.5px,#6aff95 32.5px,#9cff63 69.5px,#a5ff5a 87.5px,#a4ff5b 137.5px,#84ff7b 209.5px,#68ff97 275.5px)"></i>
<i style="background:linear-gradient(90deg,#42ffbd 0.5px,#5cffa3 33.5px,#90ff6f 69.5px,#9cff63 85.5px,#a1ff5e 122.5px,#93ff6c 163.5px,#66ff99 275.5px)"></i>
<i style="background:linear-gradient(90deg,#32ffcd 0.5px,#4effb1 35.5px,#86ff79 71.5px,#99ff66 96.5px,#99ff66 138.5px,#7bff84 215.5px,#63ff9c 275.5px)"></i>
<i style="background:linear-gradient(90deg,#22ffdd 0.5px,#40ffbf 36.5px,#7eff81 75.5px,#93ff6c 99.5px,#95ff6a 130.5px,#60ff9f 275.5px)"></i>
<i style="background:linear-gradient(90deg,#12ffed 0.5px,#30ffcf 36.5px,#7cff83 83.5px,#8dff72 103.5px,#8dff72 139.5px,#74ff8b 215.5px,#5dffa2 275.5px)"></i>
<i style="background:linear-gradient(90deg,#02fffd 0.5px,#20ffdf 36.5px,#7bff84 91.5px,#89ff76 113.5px,#81ff7e 158.5px,#5affa5 275.5px)"></i>
<i style="background:linear-gradient(90deg,#00f2ff 0.5px,#03fffc 22.5px,#1bffe4 43.5px,#76ff89 95.5px,#83ff7c 119.5px,#62ff9d 245.5px,#58ffa7 275.5px)"></i>
<i style="background:linear-gradient(90deg,#00e2ff 0.5px,#02fffd 37.5px,#45ffba 76.5px,#6cff93 96.5px,#7bff84 118.5px,#64ff9b 230.5px,#55ffaa 275.5px)"></i>
<i style="background:linear-gradient(90deg,#00d2ff 0.5px,#00f0ff 36.5px,#03fffc 48.5px,#3fffc0 80.5px,#66ff99 100.5px,#73ff8c 119.5px,#62ff9d 224.5px,#52ffad 275.5px)"></i>
<i style="background:linear-gradient(90deg,#00c3ff 0.5px,#00dfff 35.5px,#03fffc 58.5px,#34ffcb 82.5px,#5affa5 100.5px,#6bff94 118.5px,#60ff9f 218.5px,#4fffb0 275.5px)"></i>
<i style="background:linear-gradient(90deg,#00b3ff 0.5px,#00d1ff 36.5px,#03fffc 66.5px,#24ffdb 82.5px,#52ffad 103.5px,#62ff9d 119.5px,#5fffa0 189.5px,#53ffac 250.5px,#4cffb3 275.5px)"></i>
<i style="background:linear-gradient(90deg,#00a3ff 0.5px,#00bfff 34.5px,#00f8ff 69.5px,#04fffb 75.5px,#47ffb8 104.5px,#58ffa7 118.5px,#5cffa3 172.5px,#52ffad 241.5px,#49ffb6 275.5px)"></i>
<i style="background:linear-gradient(90deg,#0093ff 0.5px,#00adff 31.5px,#00e2ff 65.5px,#02fffd 81.5px,#43ffbc 109.5px,#50ffaf 122.5px,#56ffa9 177.5px,#4fffb0 238.5px,#46ffb9 275.5px)"></i>
<i style="background:linear-gradient(90deg,#0083ff 0.5px,#009cff 30.5px,#00d9ff 68.5px,#01fffe 87.5px,#3cffc3 112.5px,#48ffb7 126.5px,#50ffaf 176.5px,#4cffb3 234.5px,#43ffbc 275.5px)"></i>
<i style="background:linear-gradient(90deg,#0072ff 0.5px,#008aff 28.5px,#00b7ff 57.5px,#00f1ff 87.5px,#03fffc 94.5px,#34ffcb 114.5px,#45ffba 140.5px,#4bffb4 206.5px,#40ffbf 275.5px)"></i>
<i style="background:linear-gradient(90deg,#0063ff 0.5px,#0078ff 26.5px,#00a6ff 56.5px,#00f0ff 93.5px,#02fffd 99.5px,#2bffd4 116.5px,#3fffc0 144.5px,#47ffb8 216.5px,#3cffc3 275.5px)"></i>
<i style="background:linear-gradient(90deg,#0053ff 0.5px,#0068ff 25.5px,#0088ff 47.5px,#00d5ff 87.5px,#00fbff 102.5px,#0cfff3 108.5px,#24ffdb 120.5px,#38ffc7 146.5px,#42ffbd 208.5px,#39ffc6 275.5px)"></i>
<i style="background:linear-gradient(90deg,#0045ff 0.5px,#0059ff 26.5px,#008aff 57.5px,#00deff 97.5px,#01fffe 109.5px,#19ffe6 120.5px,#31ffce 147.5px,#3dffc2 204.5px,#36ffc9 275.5px)"></i>
<i style="background:linear-gradient(90deg,#0037ff 0.5px,#004aff 26.5px,#0078ff 56.5px,#00d0ff 97.5px,#01fffe 114.5px,#1fffe0 134.5px,#2fffd0 160.5px,#39ffc6 221.5px,#33ffcc 275.5px)"></i>
<i style="background:linear-gradient(90deg,#002aff 0.5px,#003aff 24.5px,#0059ff 47.5px,#009bff 80.5px,#00ceff 101.5px,#00feff 119.5px,#21ffde 145.5px,#32ffcd 196.5px,#30ffcf 275.5px)"></i>
<i style="background:linear-gradient(90deg,#001dff 0.5px,#002cff 25.5px,#0053ff 53.5px,#008cff 80.5px,#00c6ff 103.5px,#00f3ff 120.5px,#03fffc 128.5px,#1dffe2 150.5px,#2effd1 202.5px,#2cffd3 275.5px)"></i>
<i style="background:linear-gradient(90deg,#0010ff 0.5px,#001dff 24.5px,#003bff 48.5px,#0077ff 78.5px,#00c3ff 107.5px,#00edff 123.5px,#03fffc 135.5px,#17ffe8 152.5px,#29ffd6 203.5px,#29ffd6 275.5px)"></i>
<i style="background:linear-gradient(90deg,#0002ff 0.5px,#000eff 23.5px,#0025ff 44.5px,#0052ff 69.5px,#00a4ff 101.5px,#00e3ff 124.5px,#02fffd 140.5px,#14ffeb 159.5px,#25ffda 208.5px,#26ffd9 275.5px)"></i>
<i style="background:linear-gradient(90deg,#0000f1 0.5px,#0003ff 29.5px,#0029ff 57.5px,#0057ff 78.5px,#00ddff 127.5px,#01fffe 145.5px,#16ffe9 176.5px,#21ffde 221.5px,#22ffdd 275.5px)"></i>
<i style="background:linear-gradient(90deg,#0000e0 0.5px,#0000f7 34.5px,#0003ff 43.5px,#0029ff 65.5px,#004cff 80.5px,#00d3ff 128.5px,#00ffff 150.5px,#19ffe6 200.5px,#1fffe0 275.5px)"></i>
<i style="background:linear-gradient(90deg,#0000cd 0.5px,#0000d5 8.5px,#0000d7 14.5px,#0000e7 36.5px,#0003ff 54.5px,#0038ff 79.5px,#00ccff 130.5px,#00f6ff 149.5px,#03fffc 165.5px,#16ffe9 208.5px,#1bffe4 275.5px)"></i>
<i style="background:linear-gradient(90deg,#0000bb 0.5px,#0000c7 6.5px,#0000c1 12.5px,#0000cc 18.5px,#0000c9 24.5px,#0000d4 31.5px,#0000d7 37.5px,#0001ff 62.5px,#002cff 81.5px,#00c7ff 133.5px,#00efff 149.5px,#02fffd 173.5px,#13ffec 221.5px,#18ffe7 275.5px)"></i>
<i style="background:linear-gradient(90deg,#0000ae 0.5px,#0000ba 6.5px,#0000b2 12.5px,#0000bf 18.5px,#0000b8 24.5px,#0000c5 30.5px,#0000c2 36.5px,#0000d2 43.5px,#0000d9 50.5px,#0003ff 71.5px,#001bff 81.5px,#0090ff 119.5px,#00e5ff 148.5px,#00faff 172.5px,#06fff9 194.5px,#11ffee 246.5px,#14ffeb 275.5px)"></i>
<i style="background:linear-gradient(90deg,#0000a6 0.5px,#0000ae 7.5px,#0000a8 12.5px,#0000b3 18.5px,#0000ac 24.5px,#0000b8 30.5px,#0000b3 36.5px,#0000c2 42.5px,#0000c2 48.5px,#0000d2 55.5px,#0000dd 62.5px,#0003ff 79.5px,#0080ff 119.5px,#00b4ff 135.5px,#00e1ff 150.5px,#00fcff 186.5px,#10ffef 272.5px,#10ffef 275.5px)"></i>
<i style="background:linear-gradient(90deg,#0000a0 0.5px,#0000a4 8.5px,#0000a5 14.5px,#0000a8 20.5px,#0000a6 25.5px,#0000ad 31.5px,#0000a9 36.5px,#0000b6 42.5px,#0000b3 48.5px,#0000c2 54.5px,#0000c5 60.5px,#0000d9 68.5px,#0000f3 80.5px,#0003ff 85.5px,#006cff 118.5px,#009fff 132.5px,#00d6ff 149.5px,#00edff 172.5px,#02fffd 211.5px,#0dfff2 275.5px)"></i>
<i style="background:linear-gradient(90deg,#00009c 0.5px,#0000a1 16.5px,#0000a2 26.5px,#0000a4 37.5px,#0000ab 44.5px,#0000a9 48.5px,#0000b6 54.5px,#0000b5 60.5px,#0000c7 66.5px,#0000cf 73.5px,#0001ff 91.5px,#005bff 118.5px,#008eff 131.5px,#00ceff 149.5px,#00e8ff 175.5px,#00fdff 218.5px,#09fff6 275.5px)"></i>
<i style="background:linear-gradient(90deg,#000099 0.5px,#0000a0 38.5px,#0000a2 46.5px,#0000ab 56.5px,#0000aa 60.5px,#0000ba 66.5px,#0000bb 72.5px,#0000d1 80.5px,#0000e5 88.5px,#0001ff 97.5px,#0045ff 117.5px,#007dff 130.5px,#00c7ff 150.5px,#00ddff 169.5px,#00f7ff 215.5px,#03fffc 261.5px,#05fffa 275.5px)"></i>
<i style="background:linear-gradient(90deg,#000097 0.5px,#00009f 49.5px,#0000a3 57.5px,#0000a8 62.5px,#0000af 68.5px,#0000ae 72.5px,#0000c1 79.5px,#0000c6 84.5px,#0002ff 103.5px,#0033ff 117.5px,#0072ff 131.5px,#00beff 150.5px,#00d6ff 170.5px,#00f2ff 216.5px,#02fffd 275.5px)"></i>
<i style="background:linear-gradient(90deg,#000094 0.5px,#00009b 50.5px,#0000a1 62.5px,#0000a5 70.5px,#0000b5 80.5px,#0000b6 84.5px,#0000cb 91.5px,#0000d9 97.5px,#0001ff 108.5px,#0021ff 117.5px,#0067ff 132.5px,#00b4ff 150.5px,#00cfff 170.5px,#00edff 217.5px,#00fdff 275.5px)"></i>
<i style="background:linear-gradient(90deg,#000092 0.5px,#00009a 59.5px,#0000a3 74.5px,#0000aa 81.5px,#0000ae 85.5px,#0000bd 91.5px,#0000c2 96.5px,#0000fa 112.5px,#0009ff 116.5px,#005cff 133.5px,#00a8ff 150.5px,#00c4ff 167.5px,#00e6ff 213.5px,#00f9ff 275.5px)"></i>
<i style="background:linear-gradient(90deg,#000091 0.5px,#000097 58.5px,#0000a1 77.5px,#0000a6 85.5px,#0000b1 92.5px,#0000b3 96.5px,#0000cf 104.5px,#0000f6 116.5px,#0001ff 118.5px,#0098ff 149.5px,#00b5ff 162.5px,#00dcff 205.5px,#00f3ff 268.5px,#00f5ff 275.5px)"></i>
<i style="background:linear-gradient(90deg,#000090 0.5px,#000095 58.5px,#0000a0 85.5px,#0000a7 93.5px,#0000ad 97.5px,#0000c1 105.5px,#0000cb 109.5px,#0000f3 119.5px,#0004ff 122.5px,#008eff 150.5px,#00aeff 164.5px,#00d8ff 208.5px,#00f0ff 273.5px,#00f1ff 275.5px)"></i>
<i style="background:linear-gradient(90deg,#000090 0.5px,#000094 68.5px,#0000a3 96.5px,#0000b3 104.5px,#0000b6 108.5px,#0000cd 114.5px,#0000eb 121.5px,#0000ff 125.5px,#0080ff 150.5px,#00a4ff 164.5px,#00d5ff 213.5px,#00ecff 275.5px)"></i>
<i style="background:linear-gradient(90deg,#00008f 0.5px,#000094 71.5px,#00009f 97.5px,#0000ab 108.5px,#0000d2 120.5px,#0002ff 129.5px,#0071ff 150.5px,#009aff 164.5px,#00c4ff 200.5px,#00dbff 236.5px,#00e8ff 275.5px)"></i>
<i style="background:linear-gradient(90deg,#00008f 0.5px,#000093 80.5px,#00009f 101.5px,#0000a7 109.5px,#0000c0 120.5px,#0000fe 132.5px,#0061ff 150.5px,#008fff 164.5px,#00b5ff 193.5px,#00cfff 222.5px,#00e4ff 275.5px)"></i>
<i style="background:linear-gradient(90deg,#000090 0.5px,#000092 81.5px,#00009f 108.5px,#0000b2 120.5px,#0000dd 129.5px,#0001ff 136.5px,#004dff 149.5px,#007dff 162.5px,#0095ff 174.5px,#00c3ff 213.5px,#00ddff 266.5px,#00e0ff 275.5px)"></i>
<i style="background:linear-gradient(90deg,#000090 0.5px,#000092 91.5px,#00009e 111.5px,#0000a8 120.5px,#0000c8 128.5px,#0000e8 135.5px,#0002ff 139.5px,#0041ff 150.5px,#0077ff 164.5px,#0098ff 183.5px,#00bdff 213.5px,#00d8ff 264.5px,#00dcff 275.5px)"></i>
<i style="background:linear-gradient(90deg,#000090 0.5px,#000092 93.5px,#00009e 118.5px,#0000c5 132.5px,#0000fd 141.5px,#003fff 153.5px,#0070ff 166.5px,#0095ff 188.5px,#00b5ff 212.5px,#00ceff 251.5px,#00d7ff 275.5px)"></i>
<i style="background:linear-gradient(90deg,#000091 0.5px,#000092 103.5px,#00009c 119.5px,#0000b5 132.5px,#0000ff 144.5px,#0041ff 157.5px,#0069ff 168.5px,#00a8ff 206.5px,#00c4ff 240.5px,#00d3ff 275.5px)"></i>
<i style="background:linear-gradient(90deg,#000091 0.5px,#000092 105.5px,#000099 119.5px,#0000ab 132.5px,#0000ed 144.5px,#0001ff 147.5px,#004bff 163.5px,#006aff 174.5px,#00a6ff 210.5px,#00c2ff 246.5px,#00ceff 275.5px)"></i>
<i style="background:linear-gradient(90deg,#000091 0.5px,#000092 115.5px,#0000a4 132.5px,#0000d4 143.5px,#0001ff 150.5px,#004cff 167.5px,#0073ff 185.5px,#009eff 209.5px,#00baff 241.5px,#00caff 275.5px)"></i>
<i style="background:linear-gradient(90deg,#000091 0.5px,#000092 117.5px,#00009f 132.5px,#0000c3 143.5px,#0000f5 151.5px,#0004ff 154.5px,#0041ff 168.5px,#0067ff 184.5px,#0097ff 209.5px,#00b6ff 243.5px,#00c6ff 275.5px)"></i>
<i style="background:linear-gradient(90deg,#000092 0.5px,#000092 119.5px,#00009b 132.5px,#0000b9 144.5px,#0000e1 150.5px,#0003ff 157.5px,#003dff 171.5px,#0082ff 201.5px,#009eff 221.5px,#00baff 259.5px,#00c1ff 275.5px)"></i>
<i style="background:linear-gradient(90deg,#000092 0.5px,#000092 126.5px,#0000a9 143.5px,#0000d7 151.5px,#0001ff 160.5px,#0039ff 174.5px,#0083ff 206.5px,#00a1ff 230.5px,#00bdff 275.5px)"></i>
<i style="background:linear-gradient(90deg,#000092 0.5px,#000092 128.5px,#0000a2 143.5px,#0000cc 152.5px,#0000fe 163.5px,#002fff 175.5px,#007aff 205.5px,#009aff 229.5px,#00b8ff 275.5px)"></i>
<i style="background:linear-gradient(90deg,#000092 0.5px,#000092 130.5px,#00009b 142.5px,#0000c2 153.5px,#0000dc 159.5px,#0002ff 167.5px,#0030ff 179.5px,#007aff 209.5px,#009dff 239.5px,#00b3ff 275.5px)"></i>
<i style="background:linear-gradient(90deg,#000091 0.5px,#000092 136.5px,#00009d 144.5px,#0000b5 153.5px,#0000c3 157.5px,#0002ff 170.5px,#0033ff 184.5px,#0074ff 210.5px,#0096ff 238.5px,#00afff 275.5px)"></i>
<i style="background:linear-gradient(90deg,#000091 0.5px,#000092 139.5px,#0000b2 156.5px,#0001ff 173.5px,#002bff 185.5px,#006aff 209.5px,#008bff 233.5px,#00a8ff 270.5px,#00aaff 275.5px)"></i>
<i style="background:linear-gradient(90deg,#000091 0.5px,#000092 141.5px,#0000aa 156.5px,#0000df 169.5px,#0000ff 176.5px,#0029ff 188.5px,#0065ff 210.5px,#0089ff 237.5px,#00a6ff 275.5px)"></i>
<i style="background:linear-gradient(90deg,#000091 0.5px,#000092 142.5px,#0000a7 157.5px,#0000cb 168.5px,#0000fb 178.5px,#000cff 182.5px,#0058ff 208.5px,#007eff 232.5px,#009dff 268.5px,#00a1ff 275.5px)"></i>
<i style="background:linear-gradient(90deg,#000091 0.5px,#000092 143.5px,#0000a2 157.5px,#0000be 168.5px,#0000f3 179.5px,#0004ff 183.5px,#0050ff 208.5px,#0076ff 231.5px,#0099ff 269.5px,#009cff 275.5px)"></i>
<i style="background:linear-gradient(90deg,#000091 0.5px,#000092 145.5px,#0000a0 158.5px,#0000b4 168.5px,#0000f3 182.5px,#0003ff 186.5px,#0047ff 208.5px,#006dff 229.5px,#0092ff 266.5px,#0098ff 275.5px)"></i>
<i style="background:linear-gradient(90deg,#000091 0.5px,#000092 148.5px,#0000a9 167.5px,#0000fe 188.5px,#0048ff 212.5px,#006fff 236.5px,#0090ff 270.5px,#0093ff 275.5px)"></i>
<i style="background:linear-gradient(90deg,#000091 0.5px,#000092 151.5px,#0000a4 167.5px,#0000d5 181.5px,#0000ff 191.5px,#0042ff 213.5px,#006aff 237.5px,#008eff 274.5px,#008eff 275.5px)"></i>
<i style="background:linear-gradient(90deg,#000091 0.5px,#000092 152.5px,#0000a2 168.5px,#0000c9 181.5px,#0000ff 194.5px,#0039ff 213.5px,#0062ff 236.5px,#0084ff 268.5px,#008aff 275.5px)"></i>
<i style="background:linear-gradient(90deg,#000091 0.5px,#000092 154.5px,#00009d 167.5px,#0000b9 180.5px,#0000e5 190.5px,#0003ff 198.5px,#0035ff 215.5px,#0060ff 239.5px,#0085ff 275.5px)"></i>
<i style="background:linear-gradient(90deg,#000091 0.5px,#000093 160.5px,#0000ac 178.5px,#0000fe 200.5px,#002cff 215.5px,#0058ff 238.5px,#007fff 273.5px,#0080ff 275.5px)"></i>
<i style="background:linear-gradient(90deg,#000091 0.5px,#000093 163.5px,#0000ab 180.5px,#0003ff 204.5px,#002fff 220.5px,#005aff 244.5px,#007bff 275.5px)"></i>
<i style="background:linear-gradient(90deg,#000091 0.5px,#000093 164.5px,#0000a6 180.5px,#0000cd 193.5px,#0000ff 206.5px,#0034ff 226.5px,#005eff 252.5px,#0076ff 275.5px)"></i>
<i style="background:linear-gradient(90deg,#000091 0.5px,#000093 166.5px,#0000a2 180.5px,#0000c3 193.5px,#0000fe 209.5px,#0032ff 229.5px,#005cff 255.5px,#0071ff 275.5px)"></i>
<i style="background:linear-gradient(90deg,#000091 0.5px,#000093 167.5px,#0000a1 181.5px,#0000ba 193.5px,#0000fe 212.5px,#0037ff 235.5px,#0061ff 264.5px,#006dff 275.5px)"></i>
<i style="background:linear-gradient(90deg,#000091 0.5px,#000093 170.5px,#0000a5 186.5px,#0000b3 193.5px,#0001ff 216.5px,#0031ff 236.5px,#0059ff 262.5px,#0068ff 275.5px)"></i>
<i style="background:linear-gradient(90deg,#000091 0.5px,#000093 173.5px,#0000aa 192.5px,#0000d8 207.5px,#0001ff 219.5px,#0032ff 240.5px,#005cff 269.5px,#0062ff 275.5px)"></i>
<i style="background:linear-gradient(90deg,#000091 0.5px,#000093 175.5px,#0000a8 193.5px,#0000c7 205.5px,#0000ff 222.5px,#0032ff 244.5px,#005cff 274.5px,#005dff 275.5px)"></i>
<i style="background:linear-gradient(90deg,#000091 0.5px,#000093 176.5px,#0000a4 193.5px,#0000be 205.5px,#0000fe 225.5px,#0031ff 247.5px,#0058ff 275.5px)"></i>
<i style="background:linear-gradient(90deg,#000091 0.5px,#000093 178.5px,#0000a4 195.5px,#0000ba 206.5px,#0002ff 229.5px,#0033ff 252.5px,#0053ff 275.5px)"></i>
<i style="background:linear-gradient(90deg,#000091 0.5px,#000094 182.5px,#0000aa 202.5px,#0000dd 220.5px,#0001ff 232.5px,#0030ff 254.5px,#004eff 275.5px)"></i>
<i style="background:linear-gradient(90deg,#000091 0.5px,#000094 185.5px,#0000aa 204.5px,#0000cd 218.5px,#0001ff 235.5px,#0033ff 260.5px,#0049ff 275.5px)"></i>
<i style="background:linear-gradient(90deg,#000091 0.5px,#000094 187.5px,#0000a8 205.5px,#0000c1 217.5px,#0000ff 238.5px,#0032ff 263.5px,#0043ff 275.5px)"></i>
<i style="background:linear-gradient(90deg,#000091 0.5px,#000094 189.5px,#0000a6 206.5px,#0000be 218.5px,#0000ff 241.5px,#0031ff 266.5px,#003eff 275.5px)"></i>
<i style="background:linear-gradient(90deg,#000091 0.5px,#000094 191.5px,#0000a9 211.5px,#0000d4 229.5px,#0000fe 244.5px,#0031ff 270.5px,#0038ff 275.5px)"></i>
<i style="background:linear-gradient(90deg,#000091 0.5px,#000094 193.5px,#0000ab 215.5px,#0000d3 231.5px,#0001ff 248.5px,#0030ff 273.5px,#0032ff 275.5px)"></i>
<i style="background:linear-gradient(90deg,#000091 0.5px,#000094 195.5px,#0000a9 216.5px,#0000c8 230.5px,#0001ff 251.5px,#002cff 275.5px)"></i>
<i style="background:linear-gradient(90deg,#000091 0.5px,#000094 198.5px,#0000a9 218.5px,#0000c1 230.5px,#0000ff 254.5px,#0027ff 275.5px)"></i>
<i style="background:linear-gradient(90deg,#000091 0.5px,#000094 200.5px,#0000a8 220.5px,#0000c0 232.5px,#0000ff 257.5px,#0021ff 275.5px)"></i>
<i style="background:linear-gradient(90deg,#000091 0.5px,#000094 202.5px,#0000ab 225.5px,#0000d5 243.5px,#0001ff 261.5px,#001bff 275.5px)"></i>
<i style="background:linear-gradient(90deg,#000091 0.5px,#000094 204.5px,#0000ac 228.5px,#0000d0 244.5px,#0001ff 264.5px,#0015ff 275.5px)"></i>
<i style="background:linear-gradient(90deg,#000091 0.5px,#000094 206.5px,#0000a7 227.5px,#0000c9 244.5px,#0000ff 267.5px,#000fff 275.5px)"></i>
<i style="background:linear-gradient(90deg,#000091 0.5px,#000094 209.5px,#0000ab 232.5px,#0000ca 247.5px,#0000ff 270.5px,#0009ff 275.5px)"></i>
<i style="background:linear-gradient(90deg,#000091 0.5px,#000094 211.5px,#0000a7 232.5px,#0000d1 253.5px,#0001ff 274.5px,#0003ff 275.5px)"></i>
<i style="background:linear-gradient(90deg,#000091 0.5px,#000094 214.5px,#0000ac 238.5px,#0000d2 256.5px,#0000fc 275.5px)"></i>
<i style="background:linear-gradient(90deg,#000091 0.5px,#000094 216.5px,#0000ac 240.5px,#0000d0 258.5px,#0000f6 275.5px)"></i>
<i style="background:linear-gradient(90deg,#000091 0.5px,#000094 219.5px,#0000aa 241.5px,#0000cc 259.5px,#0000ef 275.5px)"></i>
<i style="background:linear-gradient(90deg,#000092 0.5px,#000094 221.5px,#0000ad 246.5px,#0000e9 275.5px)"></i>
<i style="background:linear-gradient(90deg,#000092 0.5px,#000094 223.5px,#0000a3 241.5px,#0000c6 262.5px,#0000e3 275.5px)"></i>
<i style="background:linear-gradient(90deg,#000092 0.5px,#000094 226.5px,#0000ad 251.5px,#0000dc 275.5px)"></i>
<i style="background:linear-gradient(90deg,#000092 0.5px,#000094 229.5px,#0000ab 252.5px,#0000d6 275.5px)"></i>
<i style="background:linear-gradient(90deg,#000092 0.5px,#000094 232.5px,#0000ac 255.5px,#0000cf 275.5px)"></i>
<i style="background:linear-gradient(90deg,#000092 0.5px,#000094 235.5px,#0000b1 261.5px,#0000ca 275.5px)"></i>
<i style="background:linear-gradient(90deg,#000092 0.5px,#000094 238.5px,#0000b6 266.5px,#0000c5 275.5px)"></i>
<i style="background:linear-gradient(90deg,#000092 0.5px,#000094 240.5px,#0000b4 267.5px,#0000c2 275.5px)"></i>
<i style="background:linear-gradient(90deg,#000092 0.5px,#000094 242.5px,#0000af 266.5px,#0000bf 275.5px)"></i>
<i style="background:linear-gradient(90deg,#000092 0.5px,#000094 243.5px,#0000ad 267.5px,#0000bd 275.5px)"></i>
<i style="background:linear-gradient(90deg,#000092 0.5px,#000094 243.5px,#0000aa 267.5px,#0000ba 275.5px)"></i>
<i style="background:linear-gradient(90deg,#000091 0.5px,#000093 210.5px,#000091 238.5px,#0000a6 267.5px,#0000b7 275.5px)"></i>
<i style="background:linear-gradient(90deg,#000091 0.5px,#000093 210.5px,#000092 237.5px,#0000a4 268.5px,#0000b3 275.5px)"></i>
<i style="background:linear-gradient(90deg,#000091 0.5px,#000093 209.5px,#000093 238.5px,#0000a2 270.5px,#0000ad 275.5px)"></i>
<i style="background:linear-gradient(90deg,#000090 0.5px,#000093 209.5px,#000096 229.5px,#000099 262.5px,#0000a2 274.5px,#0000a4 275.5px)"></i>
<i style="background:linear-gradient(90deg,#00008f 0.5px,#000092 208.5px,#000097 225.5px,#000098 275.5px)"></i>
</div>
<div id="cb"></div>
<svg width="387" height="313" viewBox="0 0 387 313">
<g fill="none" stroke="#141414" stroke-width="1.1" stroke-linejoin="round">
<polyline points="40.5,138.0 41.5,137.9 42.5,137.8 43.5,137.8 44.5,137.7 45.5,137.7 46.5,137.6 47.5,137.6 48.5,137.5 48.8,137.5 49.5,137.5 50.5,137.4 51.5,137.3 52.5,137.3 53.5,137.2 54.5,137.0 55.5,136.8 56.5,136.6 57.0,136.5 57.5,136.4 58.5,136.2 59.5,135.9 60.5,135.6 60.9,135.5 61.5,135.3 62.5,135.0 63.5,134.8 64.5,134.5 64.5,134.5 65.5,134.2 66.5,133.8 67.1,133.5 67.5,133.3 68.5,132.8 69.1,132.5 69.5,132.3 70.5,131.7 70.9,131.5 71.5,131.1 72.5,130.5 72.6,130.5 73.5,129.9 74.3,129.5 74.5,129.4 75.5,128.8 76.0,128.5 76.5,128.2 77.5,127.5 77.5,127.5 78.5,126.8 78.9,126.5 79.5,126.1 80.3,125.5 80.5,125.4 81.5,124.5 81.6,124.5 82.5,123.6 82.6,123.5 83.5,122.6 83.6,122.5 84.5,121.7 84.7,121.5 85.5,120.7 85.7,120.5 86.5,119.5 86.5,119.5 87.1,118.5 87.5,117.7 87.6,117.5 88.2,116.5 88.5,115.8 88.6,115.5 88.8,114.5 89.1,113.5 89.1,112.5 88.6,111.5 88.5,111.4 87.8,110.5 87.5,110.2 87.0,109.5 86.5,109.1 85.5,108.6 85.2,108.5 84.5,108.3 83.5,108.0 82.5,107.8 81.5,107.8 80.5,107.8 79.5,107.8 78.5,107.8 77.5,107.8 76.5,107.8 75.5,107.8 74.5,107.8 73.5,107.8 72.5,107.8 71.5,107.8 70.5,107.8 69.5,107.8 68.5,107.8 67.5,107.8 66.5,107.8 65.5,107.8 64.5,107.8 63.5,107.8 62.5,107.8 61.5,107.8 60.5,107.8 59.5,107.8 58.5,107.8 57.5,107.8 56.5,107.8 55.5,107.8 54.5,107.8 53.5,107.8 52.5,107.8 51.5,107.8 50.5,107.8 49.5,107.8 48.5,107.8 47.5,107.8 46.5,107.8 45.5,107.8 44.5,107.8 43.5,107.8 42.5,107.8 41.5,107.8 40.5,107.8"/>
<polyline points="40.5,143.5 41.5,143.5 42.5,143.5 43.5,143.5 44.5,143.5 45.5,143.5 46.5,143.5 47.5,143.5 48.5,143.5 49.5,143.5 50.5,143.5 51.5,143.5 52.5,143.5 53.5,143.5 54.5,143.5 55.5,143.5 56.5,143.5 57.5,143.5 58.5,143.5 59.5,143.5 59.7,143.5 60.5,143.5 61.5,143.4 62.5,143.4 63.5,143.3 64.5,143.2 65.5,143.2 66.5,143.1 67.5,143.1 68.5,143.0 69.5,143.0 70.5,142.9 71.5,142.8 72.5,142.8 73.5,142.7 74.5,142.7 75.5,142.6 76.5,142.5 76.5,142.5 77.5,142.3 78.5,142.0 79.5,141.8 80.5,141.5 80.7,141.5 81.5,141.3 82.5,141.1 83.5,140.8 84.5,140.6 85.0,140.5 85.5,140.3 86.5,140.0 87.5,139.7 88.2,139.5 88.5,139.4 89.5,139.1 90.5,138.8 91.4,138.5 91.5,138.5 92.5,138.1 93.5,137.8 94.5,137.5 94.6,137.5 95.5,137.2 96.5,136.7 97.1,136.5 97.5,136.3 98.5,135.9 99.4,135.5 99.5,135.4 100.5,135.0 101.5,134.6 101.7,134.5 102.5,134.1 103.5,133.7 104.0,133.5 104.5,133.3 105.5,132.8 106.1,132.5 106.5,132.3 107.5,131.8 108.1,131.5 108.5,131.3 109.5,130.8 110.2,130.5 110.5,130.4 111.5,129.9 112.3,129.5 112.5,129.4 113.5,128.9 114.4,128.5 114.5,128.4 115.5,127.9 116.3,127.5 116.5,127.4 117.5,126.8 118.0,126.5 118.5,126.2 119.5,125.6 119.7,125.5 120.5,125.0 121.4,124.5 121.5,124.4 122.5,123.8 123.0,123.5 123.5,123.2 124.5,122.6 124.7,122.5 125.5,122.0 126.4,121.5 126.5,121.4 127.5,120.7 127.7,120.5 128.5,119.9 129.0,119.5 129.5,119.1 130.4,118.5 130.5,118.4 131.5,117.6 131.7,117.5 132.5,116.9 133.0,116.5 133.5,116.1 134.3,115.5 134.5,115.3 135.5,114.5 135.5,114.5 136.5,113.7 136.8,113.5 137.5,113.0 138.1,112.5 138.5,112.2 139.4,111.5 139.5,111.4 140.5,110.5 140.6,110.5 141.5,109.6 141.6,109.5 142.5,108.7 142.7,108.5 143.5,107.8 143.8,107.5 144.5,106.8 144.9,106.5 145.5,106.0 146.0,105.5 146.5,104.9 146.8,104.5 147.2,103.5 147.5,102.7 147.6,102.5 148.0,101.5 148.5,100.5 148.5,100.4 148.9,99.5 149.4,98.5 149.5,98.2 149.8,97.5 150.1,96.5 150.3,95.5 150.4,94.5 150.5,93.7 150.5,93.5 150.7,92.5 150.9,91.5 150.9,90.5 150.7,89.5 150.5,89.0 150.3,88.5 150.0,87.5 149.5,86.6 149.4,86.5 148.5,85.8 148.1,85.5 147.5,85.2 146.5,84.5 146.5,84.5 145.5,83.8 144.9,83.5 144.5,83.3 143.5,83.1 142.5,82.8 141.5,82.5 141.4,82.5 140.5,82.2 139.5,82.0 138.5,81.7 137.9,81.5 137.5,81.4 136.5,81.4 135.5,81.5 135.1,81.5 134.5,81.5 133.5,81.6 132.5,81.6 131.5,81.7 130.5,81.7 129.5,81.8 128.5,81.8 127.5,81.9 126.5,81.9 125.5,82.0 124.5,82.0 123.5,82.0 122.5,82.1 121.5,82.1 120.5,82.2 119.5,82.2 118.5,82.3 117.5,82.3 116.5,82.3 115.5,82.4 114.5,82.4 113.5,82.5 112.7,82.5 112.5,82.5 111.5,82.5 110.5,82.6 109.5,82.6 108.5,82.7 107.5,82.7 106.5,82.8 105.5,82.8 104.5,82.8 103.5,82.9 102.5,82.9 101.5,83.0 100.5,83.0 99.5,83.0 98.5,83.1 97.5,83.1 96.5,83.1 95.5,83.2 94.5,83.2 93.5,83.2 92.5,83.3 91.5,83.3 90.5,83.3 89.5,83.4 88.5,83.4 87.5,83.4 86.5,83.5 85.5,83.5 85.5,83.5 84.5,83.5 83.5,83.6 82.5,83.6 81.5,83.6 80.5,83.7 79.5,83.7 78.5,83.7 77.5,83.8 76.5,83.8 75.5,83.8 74.5,83.9 73.5,83.9 72.5,83.9 71.5,84.0 70.5,84.0 69.5,84.0 68.5,84.0 67.5,84.1 66.5,84.1 65.5,84.1 64.5,84.1 63.5,84.2 62.5,84.2 61.5,84.2 60.5,84.2 59.5,84.3 58.5,84.3 57.5,84.3 56.5,84.4 55.5,84.4 54.5,84.4 53.5,84.4 52.5,84.5 51.5,84.5 51.0,84.5 50.5,84.5 49.5,84.5 48.5,84.6 47.5,84.6 46.5,84.6 45.5,84.6 44.5,84.7 43.5,84.7 42.5,84.7 41.5,84.7 40.5,84.8"/>
<polyline points="40.5,149.1 41.5,149.1 42.5,149.2 43.5,149.2 44.5,149.2 45.5,149.2 46.5,149.2 47.5,149.3 48.5,149.3 49.5,149.3 50.5,149.3 51.5,149.3 52.5,149.4 53.5,149.4 54.5,149.4 55.5,149.4 56.5,149.4 57.5,149.5 58.5,149.5 59.5,149.5 60.0,149.5 60.5,149.5 61.5,149.5 62.5,149.5 63.5,149.6 64.5,149.6 65.5,149.6 66.5,149.6 67.5,149.6 68.5,149.7 69.5,149.7 70.5,149.7 71.5,149.7 72.5,149.7 73.5,149.8 74.5,149.8 75.5,149.8 76.5,149.8 77.5,149.7 78.5,149.7 79.5,149.6 80.5,149.5 81.0,149.5 81.5,149.5 82.5,149.4 83.5,149.4 84.5,149.3 85.5,149.2 86.5,149.2 87.5,149.1 88.5,149.0 89.5,149.0 90.5,148.9 91.5,148.9 92.5,148.8 93.5,148.8 94.5,148.7 95.5,148.6 96.5,148.5 96.7,148.5 97.5,148.4 98.5,148.2 99.5,148.0 100.5,147.9 101.5,147.7 102.5,147.6 102.9,147.5 103.5,147.4 104.5,147.2 105.5,147.1 106.5,146.9 107.5,146.8 108.5,146.6 109.1,146.5 109.5,146.4 110.5,146.3 111.5,146.1 112.5,146.0 113.5,145.8 114.5,145.6 115.4,145.5 115.5,145.5 116.5,145.3 117.5,145.0 118.5,144.7 119.2,144.5 119.5,144.4 120.5,144.1 121.5,143.9 122.5,143.6 122.8,143.5 123.5,143.3 124.5,143.0 125.5,142.8 126.4,142.5 126.5,142.5 127.5,142.2 128.5,141.9 129.5,141.6 130.0,141.5 130.5,141.3 131.5,140.9 132.5,140.5 132.6,140.5 133.5,140.2 134.5,139.8 135.2,139.5 135.5,139.4 136.5,139.0 137.5,138.6 137.9,138.5 138.5,138.3 139.5,137.9 140.5,137.5 140.6,137.5 141.5,137.2 142.5,136.8 143.3,136.5 143.5,136.4 144.5,136.1 145.5,135.7 146.0,135.5 146.5,135.3 147.5,134.9 148.4,134.5 148.5,134.4 149.5,134.0 150.5,133.6 150.7,133.5 151.5,133.2 152.5,132.7 153.1,132.5 153.5,132.3 154.5,131.9 155.5,131.5 155.5,131.5 156.5,131.1 157.5,130.6 157.8,130.5 158.5,130.2 159.5,129.8 160.1,129.5 160.5,129.3 161.5,128.8 162.2,128.5 162.5,128.4 163.5,127.9 164.3,127.5 164.5,127.4 165.5,126.9 166.5,126.5 166.5,126.5 167.5,126.0 168.5,125.5 168.6,125.5 169.5,125.1 170.5,124.6 170.7,124.5 171.5,124.1 172.5,123.6 172.8,123.5 173.5,123.1 174.5,122.6 174.6,122.5 175.5,122.0 176.4,121.5 176.5,121.5 177.5,120.9 178.3,120.5 178.5,120.4 179.5,119.8 180.2,119.5 180.5,119.3 181.5,118.8 182.0,118.5 182.5,118.2 183.5,117.7 183.8,117.5 184.5,117.1 185.5,116.6 185.6,116.5 186.5,116.0 187.5,115.5 187.5,115.5 188.5,114.9 189.3,114.5 189.5,114.4 190.5,113.8 191.1,113.5 191.5,113.3 192.5,112.7 192.8,112.5 193.5,112.0 194.2,111.5 194.5,111.3 195.5,110.6 195.6,110.5 196.5,109.9 197.1,109.5 197.5,109.2 198.5,108.5 198.6,108.5 199.5,107.8 200.0,107.5 200.5,107.1 201.2,106.5 201.5,106.3 202.5,105.5 202.5,105.5 203.5,104.7 203.7,104.5 204.5,103.8 204.9,103.5 205.5,103.0 206.2,102.5 206.5,102.2 207.4,101.5 207.5,101.4 208.5,100.6 208.6,100.5 209.5,99.8 209.8,99.5 210.5,99.0 211.1,98.5 211.5,98.2 212.3,97.5 212.5,97.3 213.5,96.5 213.5,96.5 214.5,95.7 214.8,95.5 215.5,94.9 216.0,94.5 216.5,93.9 216.8,93.5 217.5,92.6 217.6,92.5 218.4,91.5 218.5,91.4 219.2,90.5 219.5,90.1 220.0,89.5 220.5,88.8 220.8,88.5 221.5,87.5 221.5,87.5 222.3,86.5 222.5,86.2 223.0,85.5 223.5,84.8 223.8,84.5 224.5,83.5 224.5,83.5 225.3,82.5 225.5,82.2 226.0,81.5 226.5,80.6 226.5,80.5 227.0,79.5 227.5,78.5 227.5,78.5 228.0,77.5 228.5,76.6 228.5,76.5 229.0,75.5 229.3,74.5 229.5,73.5 229.5,73.4 229.7,72.5 230.0,71.5 230.2,70.5 230.5,69.5 230.5,69.3 230.7,68.5 230.9,67.5 230.9,66.5 231.0,65.5 231.1,64.5 231.2,63.5 231.3,62.5 231.2,61.5 230.9,60.5 230.5,59.5 230.5,59.5 230.2,58.5 229.8,57.5 229.6,56.5 229.5,56.3 229.2,55.5 228.5,54.5 228.5,54.5 227.5,53.6 227.4,53.5 226.5,52.7 226.2,52.5 225.5,51.8 225.2,51.5 224.5,50.9 223.9,50.5 223.5,50.3 222.5,50.1 221.5,49.8 220.5,49.5 220.4,49.5 219.5,49.3 218.5,49.0 217.5,48.7 216.9,48.5 216.5,48.4 215.5,48.1 214.5,48.0 213.5,47.9 212.5,47.9 211.5,47.8 210.5,47.7 209.5,47.7 208.5,47.6 207.5,47.5 206.8,47.5 206.5,47.5 205.5,47.4 204.5,47.4 203.5,47.5 203.5,47.5 202.5,47.6 201.5,47.7 200.5,47.7 199.5,47.8 198.5,47.9 197.5,48.0 196.5,48.0 195.5,48.1 194.5,48.2 193.5,48.2 192.5,48.3 191.5,48.4 190.5,48.5 190.1,48.5 189.5,48.6 188.5,48.7 187.5,48.8 186.5,48.9 185.5,49.0 184.5,49.1 183.5,49.2 182.5,49.3 181.5,49.5 181.1,49.5 180.5,49.6 179.5,49.7 178.5,49.8 177.5,49.9 176.5,50.0 175.5,50.1 174.5,50.2 173.5,50.3 172.5,50.4 171.5,50.4 170.5,50.5 170.0,50.5 169.5,50.5 168.5,50.6 167.5,50.6 166.5,50.7 165.5,50.7 164.5,50.8 163.5,50.8 162.5,50.9 161.5,50.9 160.5,51.0 159.5,51.0 158.5,51.1 157.5,51.1 156.5,51.2 155.5,51.2 154.5,51.3 153.5,51.3 152.5,51.4 151.5,51.4 150.5,51.5 150.0,51.5 149.5,51.5 148.5,51.6 147.5,51.6 146.5,51.7 145.5,51.7 144.5,51.8 143.5,51.8 142.5,51.9 141.5,51.9 140.5,52.0 139.5,52.0 138.5,52.1 137.5,52.1 136.5,52.2 135.5,52.2 134.5,52.3 133.5,52.3 132.5,52.4 131.5,52.4 130.5,52.5 130.0,52.5 129.5,52.5 128.5,52.6 127.5,52.6 126.5,52.7 125.5,52.7 124.5,52.8 123.5,52.8 122.5,52.9 121.5,52.9 120.5,53.0 119.5,53.0 118.5,53.1 117.5,53.1 116.5,53.2 115.5,53.2 114.5,53.3 113.5,53.3 112.5,53.4 111.5,53.4 110.5,53.5 110.0,53.5 109.5,53.5 108.5,53.6 107.5,53.6 106.5,53.7 105.5,53.7 104.5,53.8 103.5,53.8 102.5,53.8 101.5,53.9 100.5,53.9 99.5,53.9 98.5,54.0 97.5,54.0 96.5,54.0 95.5,54.1 94.5,54.1 93.5,54.1 92.5,54.1 91.5,54.2 90.5,54.2 89.5,54.2 88.5,54.2 87.5,54.3 86.5,54.3 85.5,54.3 84.5,54.3 83.5,54.4 82.5,54.4 81.5,54.4 80.5,54.4 79.5,54.5 78.5,54.5 78.0,54.5 77.5,54.5 76.5,54.5 75.5,54.6 74.5,54.6 73.5,54.6 72.5,54.6 71.5,54.7 70.5,54.7 69.5,54.7 68.5,54.7 67.5,54.7 66.5,54.8 65.5,54.8 64.5,54.8 63.5,54.8 62.5,54.8 61.5,54.8 60.5,54.9 59.5,54.9 58.5,54.9 57.5,54.9 56.5,54.9 55.5,54.9 54.5,55.0 53.5,55.0 52.5,55.0 51.5,55.0 50.5,55.0 49.5,55.0 48.5,55.1 47.5,55.1 46.5,55.1 45.5,55.1 44.5,55.1 43.5,55.1 42.5,55.1 41.5,55.2 40.5,55.2"/>
<polyline points="294.7,3.5 294.5,3.5 293.5,3.7 292.5,3.8 291.5,4.0 290.5,4.1 289.5,4.3 288.5,4.4 287.5,4.5 287.2,4.5 286.5,4.6 285.5,4.7 284.5,4.8 283.5,4.9 282.5,5.0 281.5,5.1 280.5,5.2 279.5,5.3 278.5,5.4 277.6,5.5 277.5,5.5 276.5,5.6 275.5,5.7 274.5,5.8 273.5,5.9 272.5,6.0 271.5,6.1 270.5,6.3 269.5,6.4 268.5,6.5 268.0,6.5 267.5,6.6 266.5,6.7 265.5,6.8 264.5,6.9 263.5,7.0 262.5,7.1 261.5,7.2 260.5,7.3 259.5,7.4 258.5,7.5 258.0,7.5 257.5,7.6 256.5,7.7 255.5,7.8 254.5,7.9 253.5,8.0 252.5,8.1 251.5,8.2 250.5,8.3 249.5,8.4 248.5,8.5 248.0,8.5 247.5,8.6 246.5,8.7 245.5,8.8 244.5,8.9 243.5,9.0 242.5,9.1 241.5,9.2 240.5,9.3 239.5,9.4 238.5,9.5 238.0,9.5 237.5,9.6 236.5,9.7 235.5,9.8 234.5,9.9 233.5,10.0 232.5,10.1 231.5,10.2 230.5,10.3 229.5,10.4 228.5,10.5 228.0,10.5 227.5,10.6 226.5,10.7 225.5,10.8 224.5,10.9 223.5,11.0 222.5,11.1 221.5,11.2 220.5,11.3 219.5,11.4 218.5,11.5 218.0,11.5 217.5,11.6 216.5,11.7 215.5,11.8 214.5,11.9 213.5,12.0 212.5,12.1 211.5,12.2 210.5,12.3 209.5,12.3 208.5,12.4 207.5,12.5 207.1,12.5 206.5,12.5 205.5,12.6 204.5,12.7 203.5,12.8 202.5,12.8 201.5,12.9 200.5,13.0 199.5,13.0 198.5,13.1 197.5,13.2 196.5,13.2 195.5,13.3 194.5,13.4 193.5,13.4 192.7,13.5 192.5,13.5 191.5,13.6 190.5,13.7 189.5,13.7 188.5,13.8 187.5,13.9 186.5,13.9 185.5,14.0 184.5,14.1 183.5,14.1 182.5,14.2 181.5,14.3 180.5,14.3 179.5,14.4 178.5,14.5 178.3,14.5 177.5,14.6 176.5,14.6 175.5,14.7 174.5,14.8 173.5,14.8 172.5,14.9 171.5,14.9 170.5,15.0 169.5,15.0 168.5,15.1 167.5,15.1 166.5,15.2 165.5,15.2 164.5,15.3 163.5,15.3 162.5,15.4 161.5,15.4 160.5,15.5 160.0,15.5 159.5,15.5 158.5,15.6 157.5,15.6 156.5,15.7 155.5,15.7 154.5,15.8 153.5,15.8 152.5,15.9 151.5,15.9 150.5,16.0 149.5,16.0 148.5,16.1 147.5,16.1 146.5,16.2 145.5,16.2 144.5,16.3 143.5,16.3 142.5,16.4 141.5,16.4 140.5,16.5 140.0,16.5 139.5,16.5 138.5,16.6 137.5,16.6 136.5,16.6 135.5,16.7 134.5,16.7 133.5,16.8 132.5,16.8 131.5,16.9 130.5,16.9 129.5,16.9 128.5,17.0 127.5,17.0 126.5,17.1 125.5,17.1 124.5,17.1 123.5,17.2 122.5,17.2 121.5,17.3 120.5,17.3 119.5,17.3 118.5,17.4 117.5,17.4 116.5,17.5 115.7,17.5 115.5,17.5 114.5,17.6 113.5,17.6 112.5,17.6 111.5,17.7 110.5,17.7 109.5,17.8 108.5,17.8 107.5,17.8 106.5,17.9 105.5,17.9 104.5,18.0 103.5,18.0 102.5,18.0 101.5,18.1 100.5,18.1 99.5,18.1 98.5,18.2 97.5,18.2 96.5,18.2 95.5,18.3 94.5,18.3 93.5,18.3 92.5,18.4 91.5,18.4 90.5,18.4 89.5,18.5 88.5,18.5 88.0,18.5 87.5,18.5 86.5,18.6 85.5,18.6 84.5,18.6 83.5,18.7 82.5,18.7 81.5,18.7 80.5,18.7 79.5,18.8 78.5,18.8 77.5,18.8 76.5,18.9 75.5,18.9 74.5,18.9 73.5,19.0 72.5,19.0 71.5,19.0 70.5,19.1 69.5,19.1 68.5,19.1 67.5,19.2 66.5,19.2 65.5,19.2 64.5,19.3 63.5,19.3 62.5,19.3 61.5,19.4 60.5,19.4 59.5,19.4 58.5,19.4 57.5,19.5 56.5,19.5 56.4,19.5 55.5,19.5 54.5,19.6 53.5,19.6 52.5,19.6 51.5,19.6 50.5,19.7 49.5,19.7 48.5,19.7 47.5,19.8 46.5,19.8 45.5,19.8 44.5,19.9 43.5,19.9 42.5,19.9 41.5,20.0 40.5,20.0"/>
<polyline points="40.5,154.5 41.5,154.6 42.5,154.6 43.5,154.7 44.5,154.7 45.5,154.7 46.5,154.8 47.5,154.8 48.5,154.9 49.5,154.9 50.5,154.9 51.5,155.0 52.5,155.0 53.5,155.0 54.5,155.1 55.5,155.1 56.5,155.2 57.5,155.2 58.5,155.2 59.5,155.3 60.5,155.3 61.5,155.4 62.5,155.5 63.2,155.5 63.5,155.5 64.5,155.6 65.5,155.6 66.5,155.7 67.5,155.8 68.5,155.8 69.5,155.9 70.5,156.0 71.5,156.0 72.5,156.1 73.5,156.1 74.5,156.2 75.5,156.3 76.5,156.3 77.5,156.4 78.5,156.4 79.5,156.5 80.0,156.5 80.5,156.5 81.5,156.6 82.5,156.6 83.5,156.7 84.5,156.7 85.5,156.8 86.5,156.8 87.5,156.9 88.5,156.9 89.5,157.0 90.5,157.0 91.5,157.1 92.5,157.1 93.5,157.2 94.5,157.2 95.5,157.3 96.5,157.3 97.5,157.3 98.5,157.3 99.5,157.3 100.5,157.3 101.5,157.4 102.5,157.4 103.5,157.4 104.5,157.4 105.5,157.4 106.5,157.4 107.5,157.4 108.5,157.4 109.5,157.4 110.5,157.4 111.5,157.5 112.5,157.5 113.5,157.5 114.5,157.5 115.3,157.5 115.5,157.5 115.6,157.5 116.5,157.5 117.5,157.4 118.5,157.3 119.5,157.3 120.5,157.2 121.5,157.1 122.5,157.1 123.5,157.0 124.5,156.9 125.5,156.9 126.5,156.8 127.5,156.8 128.5,156.7 129.5,156.6 130.5,156.5 130.5,156.5 131.5,156.3 132.5,156.1 133.5,155.8 134.5,155.6 135.2,155.5 135.5,155.4 136.5,155.2 137.5,155.0 138.5,154.8 139.5,154.6 139.8,154.5 140.5,154.4 141.5,154.1 142.5,153.9 143.5,153.7 144.5,153.5 144.5,153.5 145.5,153.3 146.5,153.1 147.5,152.9 148.5,152.7 149.5,152.5 149.5,152.5 150.5,152.3 151.5,152.1 152.5,151.9 153.5,151.7 154.5,151.5 154.5,151.5 155.5,151.3 156.5,151.1 157.5,150.9 158.5,150.7 159.3,150.5 159.5,150.5 160.5,150.2 161.5,150.0 162.5,149.8 163.5,149.6 164.1,149.5 164.5,149.4 165.5,149.2 166.5,149.0 167.5,148.8 168.5,148.6 169.0,148.5 169.5,148.4 170.5,148.2 171.5,148.0 172.5,147.8 173.5,147.6 174.0,147.5 174.5,147.4 175.5,147.2 176.5,147.0 177.5,146.8 178.5,146.6 179.0,146.5 179.5,146.4 180.5,146.2 181.5,145.9 182.5,145.5 182.6,145.5 183.5,145.2 184.5,144.9 185.5,144.6 185.9,144.5 186.5,144.3 187.5,144.0 188.5,143.7 189.2,143.5 189.5,143.4 190.5,143.1 191.5,142.8 192.5,142.5 192.5,142.5 193.5,142.2 194.5,141.9 195.5,141.6 195.7,141.5 196.5,141.3 197.5,141.0 198.5,140.7 199.0,140.5 199.5,140.4 200.5,140.0 201.5,139.7 202.1,139.5 202.5,139.4 203.5,139.0 204.5,138.7 205.1,138.5 205.5,138.4 206.5,138.0 207.5,137.7 208.1,137.5 208.5,137.4 209.5,137.0 210.5,136.7 211.1,136.5 211.5,136.4 212.5,136.0 213.5,135.7 214.0,135.5 214.5,135.3 215.5,135.0 216.5,134.7 217.0,134.5 217.5,134.3 218.5,134.0 219.5,133.7 220.0,133.5 220.5,133.3 221.5,132.9 222.5,132.5 222.6,132.5 223.5,132.1 224.5,131.7 225.1,131.5 225.5,131.4 226.5,131.0 227.5,130.6 227.7,130.5 228.5,130.2 229.5,129.8 230.3,129.5 230.5,129.4 231.5,129.1 232.5,128.7 233.2,128.5 233.5,128.4 234.5,128.1 235.5,127.7 236.2,127.5 236.5,127.4 237.5,127.1 238.5,126.7 239.2,126.5 239.5,126.4 240.5,125.9 241.4,125.5 241.5,125.4 242.5,124.9 243.3,124.5 243.5,124.4 244.5,123.9 245.2,123.5 245.5,123.3 246.5,122.8 247.0,122.5 247.5,122.2 248.5,121.7 248.9,121.5 249.5,121.2 250.5,120.6 250.7,120.5 251.5,120.1 252.5,119.5 252.6,119.5 253.5,119.0 254.4,118.5 254.5,118.5 255.5,117.9 256.3,117.5 256.5,117.4 257.5,116.8 258.1,116.5 258.5,116.3 259.5,115.8 260.0,115.5 260.5,115.2 261.5,114.7 262.0,114.5 262.5,114.2 263.5,113.7 263.9,113.5 264.5,113.2 265.5,112.7 265.9,112.5 266.5,112.2 267.5,111.7 267.8,111.5 268.5,111.1 269.5,110.6 269.8,110.5 270.5,110.1 271.5,109.6 271.7,109.5 272.5,109.1 273.5,108.6 273.7,108.5 274.5,108.1 275.5,107.6 275.7,107.5 276.5,107.1 277.5,106.6 277.6,106.5 278.5,106.1 279.5,105.6 279.6,105.5 280.5,105.0 281.4,104.5 281.5,104.4 282.5,103.8 283.0,103.5 283.5,103.2 284.5,102.6 284.7,102.5 285.5,102.0 286.4,101.5 286.5,101.5 287.5,100.9 288.1,100.5 288.5,100.3 289.5,99.7 289.8,99.5 290.5,99.1 291.4,98.5 291.5,98.4 292.5,97.5 292.5,97.5 293.5,96.6 293.7,96.5 294.5,95.8 294.8,95.5 295.5,94.9 296.0,94.5 296.5,94.0 297.1,93.5 297.5,93.2 298.3,92.5 298.5,92.3 299.4,91.5 299.5,91.4 300.5,90.6 300.6,90.5 301.5,89.7 301.7,89.5 302.5,88.8 302.9,88.5 303.5,87.9 304.0,87.5 304.5,87.1 305.1,86.5 305.5,86.2 306.3,85.5 306.5,85.3 307.4,84.5 307.5,84.4 308.5,83.6 308.6,83.5 309.5,82.7 309.7,82.5 310.5,81.8 310.8,81.5 311.5,80.9 311.9,80.5 312.5,80.0 312.9,79.5 313.5,78.9 313.8,78.5 314.5,77.7 314.7,77.5 315.5,76.6"/>
<polyline points="40.5,160.2 41.5,160.3 42.5,160.3 43.5,160.4 44.5,160.4 45.5,160.4 46.5,160.5 47.2,160.5 47.5,160.5 48.5,160.6 49.5,160.6 50.5,160.6 51.5,160.7 52.5,160.7 53.5,160.7 54.5,160.8 55.5,160.8 56.5,160.9 57.5,160.9 58.5,160.9 59.5,161.0 60.5,161.0 61.5,161.1 62.5,161.2 63.5,161.2 64.5,161.3 65.5,161.3 66.5,161.4 67.5,161.5 68.0,161.5 68.5,161.5 69.5,161.6 70.5,161.7 71.5,161.7 72.5,161.8 73.5,161.8 74.5,161.9 75.5,162.0 76.5,162.0 77.5,162.1 78.5,162.3 79.5,162.4 80.5,162.5 81.0,162.5 81.5,162.6 82.5,162.7 83.5,162.8 84.5,162.9 85.5,163.0 86.5,163.1 87.5,163.2 88.5,163.3 89.5,163.4 90.5,163.5 91.0,163.5 91.5,163.6 92.5,163.7 93.5,163.8 94.5,163.9 95.5,164.0 96.5,164.0 97.5,164.1 98.5,164.2 99.5,164.3 100.5,164.4 101.5,164.5 101.9,164.5 102.5,164.6 103.5,164.6 104.5,164.7 105.5,164.8 106.5,164.9 107.5,165.0 108.5,165.1 109.5,165.1 110.5,165.2 111.5,165.3 112.5,165.4 113.5,165.5 113.6,165.5 114.5,165.6 115.5,165.7 116.5,165.7 117.5,165.7 118.5,165.7 119.5,165.8 120.5,165.8 121.5,165.8 122.5,165.8 123.5,165.8 124.5,165.8 125.5,165.8 126.5,165.9 127.5,165.9 128.5,165.9 129.5,165.9 130.5,165.9 131.5,165.9 132.5,166.0 133.5,166.0 134.5,166.0 135.5,166.0 136.5,166.0 137.5,166.0 138.5,166.0 139.5,166.0 140.5,166.0 141.5,166.0 142.5,166.0 143.5,166.0 144.5,166.0 145.5,166.0 146.5,166.0 147.5,166.0 148.5,166.0 149.5,166.0 150.5,166.0 151.5,166.0 152.5,166.0 153.5,166.0 154.5,166.0 155.5,166.0 156.5,166.0 157.5,166.0 158.5,165.9 159.5,165.9 160.5,165.8 161.5,165.8 162.5,165.8 163.5,165.7 164.5,165.7 165.5,165.7 166.5,165.6 167.5,165.6 168.5,165.6 169.5,165.5 170.3,165.5 170.5,165.5 171.5,165.5 172.5,165.4 173.5,165.4 174.5,165.4 175.5,165.3 176.5,165.3 177.5,165.2 178.5,165.1 179.5,165.0 180.5,164.9 181.5,164.8 182.5,164.7 183.5,164.6 184.5,164.5 184.6,164.5 185.5,164.4 186.5,164.3 187.5,164.2 188.5,164.1 189.5,164.0 190.5,163.9 191.5,163.8 192.5,163.6 193.3,163.5 193.5,163.5 194.5,163.3 195.5,163.2 196.5,163.0 197.5,162.9 198.5,162.7 199.5,162.6 200.0,162.5 200.5,162.4 201.5,162.2 202.5,162.1 203.5,161.9 204.5,161.7 205.5,161.5 205.6,161.5 206.5,161.3 207.5,161.2 208.5,161.0 209.5,160.8 210.5,160.6 211.2,160.5 211.5,160.4 212.5,160.3 213.5,160.1 214.5,159.9 215.5,159.7 216.5,159.6 216.8,159.5 217.5,159.4 218.5,159.2 219.5,159.1 220.5,158.9 221.5,158.8 222.5,158.6 223.4,158.5 223.5,158.5 224.5,158.3 225.5,158.2 226.5,158.0 227.5,157.9 228.5,157.7 229.5,157.6 230.0,157.5 230.5,157.4 231.5,157.2 232.5,157.0 233.5,156.9 234.5,156.7 235.5,156.5 235.5,156.5 236.5,156.3 237.5,156.1 238.5,156.0 239.5,155.8 240.5,155.6 241.0,155.5 241.5,155.4 242.5,155.2 243.5,155.1 244.5,154.9 245.5,154.7 246.5,154.5 246.5,154.5 247.5,154.3 248.5,154.1 249.5,153.9 250.5,153.7 251.5,153.5 251.5,153.5 252.5,153.3 253.5,153.1 254.5,152.9 255.5,152.7 256.5,152.5 256.5,152.5 257.5,152.3 258.5,152.1 259.5,151.9 260.5,151.7 261.5,151.5 261.5,151.5 262.5,151.3 263.5,151.1 264.5,150.9 265.5,150.7 266.0,150.5 266.5,150.3 267.5,150.0 268.5,149.7 269.2,149.5 269.5,149.4 270.5,149.1 271.5,148.8 272.4,148.5 272.5,148.5 273.5,148.1 274.5,147.8 275.5,147.5 275.6,147.5 276.5,147.2 277.5,146.9 278.5,146.6 278.8,146.5 279.5,146.3 280.5,146.0 281.5,145.7 282.1,145.5 282.5,145.4 283.5,145.1 284.5,144.8 285.5,144.5 285.7,144.5 286.5,144.3 287.5,144.0 288.5,143.7 289.2,143.5 289.5,143.4 290.5,143.1 291.5,142.9 292.5,142.6 292.8,142.5 293.5,142.3 294.5,142.0 295.5,141.8 296.4,141.5 296.5,141.5 297.5,141.2 298.5,140.9 299.5,140.6 300.0,140.5 300.5,140.3 301.5,140.0 302.5,139.7 303.2,139.5 303.5,139.4 304.5,139.1 305.5,138.8 306.4,138.5 306.5,138.5 307.5,138.2 308.5,137.8 309.5,137.5 309.6,137.5 310.5,137.2 311.5,136.9 312.5,136.6 312.8,136.5 313.5,136.3 314.5,136.0 315.5,135.7"/>
<polyline points="40.5,166.0 41.5,166.1 42.5,166.1 43.5,166.2 44.5,166.2 45.5,166.2 46.5,166.3 47.5,166.3 48.5,166.4 49.5,166.4 50.5,166.4 51.5,166.5 52.3,166.5 52.5,166.5 53.5,166.5 54.5,166.6 55.5,166.6 56.5,166.7 57.5,166.7 58.5,166.7 59.5,166.8 60.5,166.8 61.5,166.9 62.5,167.0 63.5,167.0 64.5,167.1 65.5,167.1 66.5,167.2 67.5,167.3 68.5,167.3 69.5,167.4 70.5,167.5 71.2,167.5 71.5,167.5 72.5,167.6 73.5,167.6 74.5,167.7 75.5,167.8 76.5,167.9 77.5,168.0 78.5,168.1 79.5,168.2 80.5,168.3 81.5,168.4 82.4,168.5 82.5,168.5 83.5,168.6 84.5,168.7 85.5,168.8 86.5,169.0 87.5,169.1 88.5,169.2 89.5,169.3 90.5,169.4 91.5,169.5 91.5,169.5 92.5,169.6 93.5,169.7 94.5,169.8 95.5,169.9 96.5,170.0 97.5,170.2 98.5,170.3 99.5,170.4 100.5,170.5 100.8,170.5 101.5,170.6 102.5,170.7 103.5,170.8 104.5,170.9 105.5,171.0 106.5,171.1 107.5,171.2 108.5,171.3 109.5,171.4 110.3,171.5 110.5,171.5 111.5,171.6 112.5,171.7 113.5,171.8 114.5,171.9 115.5,172.0 116.5,172.2 117.5,172.3 118.5,172.5 118.8,172.5 119.5,172.6 120.5,172.7 121.5,172.9 122.5,173.0 123.5,173.2 124.5,173.3 125.5,173.5 125.7,173.5 126.5,173.6 127.5,173.8 128.5,173.9 129.5,174.0 130.5,174.2 131.5,174.3 132.5,174.5 132.6,174.5 133.5,174.6 134.5,174.8 135.5,174.9 136.5,175.0 137.5,175.2 138.5,175.3 139.5,175.4 140.4,175.5 140.5,175.5 141.5,175.6 142.5,175.7 143.5,175.9 144.5,176.0 145.5,176.1 146.5,176.2 147.5,176.3 148.5,176.4 149.1,176.5 149.5,176.6 150.5,176.7 151.5,176.8 152.5,176.9 153.5,177.0 154.5,177.1 155.5,177.2 156.5,177.3 157.5,177.3 158.5,177.4 159.5,177.4 160.5,177.4 161.5,177.4 162.5,177.5 163.5,177.5 164.0,177.5 164.5,177.5 165.5,177.5 166.5,177.6 167.5,177.6 168.5,177.6 169.5,177.6 170.5,177.7 171.5,177.7 172.5,177.7 173.5,177.7 174.5,177.8 175.5,177.8 176.5,177.8 177.5,177.8 178.5,177.8 179.5,177.8 180.5,177.8 181.5,177.8 182.5,177.8 183.5,177.9 184.5,177.9 185.5,177.9 186.5,177.9 187.5,177.9 188.5,177.9 189.5,177.9 190.5,177.9 191.5,177.9 192.5,177.9 193.5,177.9 194.5,177.9 195.5,177.9 196.5,177.9 197.5,177.9 198.5,177.9 199.5,178.0 200.5,178.0 201.5,178.0 202.5,178.0 203.5,178.0 204.5,178.0 205.5,178.0 206.5,178.0 207.5,178.0 208.5,178.0 209.5,177.9 210.5,177.9 211.5,177.9 212.5,177.9 213.5,177.9 214.5,177.8 215.5,177.8 216.5,177.8 217.5,177.8 218.5,177.8 219.5,177.7 220.5,177.7 221.5,177.7 222.5,177.7 223.5,177.7 224.5,177.6 225.5,177.6 226.5,177.6 227.5,177.6 228.5,177.6 229.5,177.5 230.5,177.5 231.5,177.5 232.1,177.5 232.5,177.5 233.5,177.5 234.5,177.5 235.5,177.5 236.5,177.4 237.5,177.4 238.5,177.4 239.5,177.4 240.5,177.4 241.5,177.4 242.5,177.4 243.5,177.4 244.5,177.3 245.5,177.3 246.5,177.3 247.5,177.3 248.5,177.3 249.5,177.3 250.5,177.3 251.5,177.3 252.5,177.2 253.5,177.2 254.5,177.2 255.5,177.2 256.5,177.2 257.5,177.1 258.5,177.0 259.5,177.0 260.5,176.9 261.5,176.8 262.5,176.7 263.5,176.7 264.5,176.6 265.5,176.5 265.9,176.5 266.5,176.5 267.5,176.4 268.5,176.3 269.5,176.2 270.5,176.2 271.5,176.1 272.5,176.0 273.5,176.0 274.5,175.9 275.5,175.8 276.5,175.7 277.5,175.7 278.5,175.6 279.5,175.5 279.9,175.5 280.5,175.5 281.5,175.4 282.5,175.2 283.5,175.1 284.5,175.0 285.5,174.9 286.5,174.8 287.5,174.7 288.5,174.6 289.5,174.5 290.0,174.5 290.5,174.4 291.5,174.3 292.5,174.2 293.5,174.1 294.5,174.0 295.5,173.9 296.5,173.8 297.5,173.7 298.5,173.6 299.5,173.6 300.0,173.5 300.5,173.4 301.5,173.3 302.5,173.2 303.5,173.1 304.5,173.0 305.5,172.9 306.5,172.8 307.5,172.7 308.5,172.6 309.4,172.5 309.5,172.5 310.5,172.4 311.5,172.3 312.5,172.2 313.5,172.1 314.5,172.0 315.5,171.9"/>
<polyline points="40.5,171.7 41.5,171.8 42.5,171.8 43.5,171.9 44.5,171.9 45.5,172.0 46.5,172.0 47.5,172.1 48.5,172.1 49.5,172.1 50.5,172.2 51.5,172.2 52.5,172.3 53.5,172.3 54.5,172.4 55.5,172.4 56.5,172.4 57.5,172.5 57.7,172.5 58.5,172.5 59.5,172.6 60.5,172.6 61.5,172.7 62.5,172.8 63.5,172.8 64.5,172.9 65.5,172.9 66.5,173.0 67.5,173.1 68.5,173.1 69.5,173.2 70.5,173.3 71.5,173.3 72.5,173.4 73.5,173.4 74.5,173.5 74.5,173.5 75.5,173.6 76.5,173.6 77.5,173.7 78.5,173.8 79.5,173.9 80.5,174.0 81.5,174.1 82.5,174.2 83.5,174.3 84.5,174.4 85.5,174.5 85.5,174.5 86.5,174.6 87.5,174.7 88.5,174.8 89.5,174.9 90.5,175.0 91.5,175.1 92.5,175.2 93.5,175.3 94.5,175.4 95.5,175.5 95.9,175.5 96.5,175.6 97.5,175.7 98.5,175.8 99.5,175.9 100.5,176.0 101.5,176.2 102.5,176.3 103.5,176.4 104.3,176.5 104.5,176.5 105.5,176.6 106.5,176.8 107.5,176.9 108.5,177.0 109.5,177.1 110.5,177.2 111.5,177.4 112.5,177.5 112.7,177.5 113.5,177.6 114.5,177.7 115.5,177.8 116.5,178.0 117.5,178.1 118.5,178.3 119.5,178.4 119.9,178.5 120.5,178.6 121.5,178.8 122.5,178.9 123.5,179.1 124.5,179.2 125.5,179.4 126.3,179.5 126.5,179.5 127.5,179.7 128.5,179.8 129.5,180.0 130.5,180.2 131.5,180.3 132.5,180.5 132.8,180.5 133.5,180.6 134.5,180.8 135.5,180.9 136.5,181.1 137.5,181.3 138.5,181.5 138.5,181.5 139.5,181.7 140.5,181.9 141.5,182.1 142.5,182.3 143.5,182.5 143.5,182.5 144.5,182.7 145.5,182.9 146.5,183.1 147.5,183.3 148.5,183.5 148.5,183.5 149.5,183.7 150.5,183.9 151.5,184.1 152.5,184.3 153.5,184.5 153.5,184.5 154.5,184.7 155.5,184.9 156.5,185.1 157.5,185.2 158.5,185.4 159.3,185.5 159.5,185.5 160.5,185.7 161.5,185.8 162.5,186.0 163.5,186.1 164.5,186.3 165.5,186.4 166.0,186.5 166.5,186.6 167.5,186.7 168.5,186.9 169.5,187.0 170.5,187.2 171.5,187.3 172.5,187.5 172.7,187.5 173.5,187.6 174.5,187.8 175.5,187.9 176.5,188.1 177.5,188.3 178.5,188.5 178.7,188.5 179.5,188.6 180.5,188.8 181.5,189.0 182.5,189.2 183.5,189.4 184.1,189.5 184.5,189.6 185.5,189.8 186.5,190.0 187.5,190.1 188.5,190.3 189.4,190.5 189.5,190.5 190.5,190.7 191.5,190.8 192.5,190.9 193.5,191.0 194.5,191.1 195.5,191.2 196.5,191.3 197.5,191.4 198.5,191.5 198.5,191.5 199.5,191.6 200.5,191.7 201.5,191.8 202.5,191.9 203.5,192.0 204.5,192.1 205.5,192.2 206.5,192.3 207.5,192.4 208.2,192.5 208.5,192.5 209.5,192.6 210.5,192.7 211.5,192.8 212.5,192.9 213.5,193.0 214.5,193.1 215.5,193.2 216.5,193.3 217.5,193.4 218.5,193.4 219.1,193.5 219.5,193.5 220.5,193.6 221.5,193.7 222.5,193.8 223.5,193.9 224.5,194.0 225.5,194.1 226.5,194.2 227.5,194.3 228.5,194.4 229.5,194.5 230.0,194.5 230.5,194.5 231.5,194.6 232.5,194.7 233.5,194.8 234.5,194.8 235.5,194.9 236.5,195.0 237.5,195.1 238.5,195.1 239.5,195.2 240.5,195.3 241.5,195.4 242.5,195.4 243.3,195.5 243.5,195.5 244.5,195.6 245.5,195.7 246.5,195.7 247.5,195.8 248.5,195.9 249.5,196.0 250.5,196.0 251.5,196.1 252.5,196.1 253.5,196.2 254.5,196.2 255.5,196.3 256.5,196.3 257.5,196.4 258.5,196.4 259.5,196.5 260.0,196.5 260.5,196.5 261.5,196.6 262.5,196.6 263.5,196.7 264.5,196.7 265.5,196.8 266.5,196.8 267.5,196.9 268.5,196.9 269.5,197.0 270.5,197.0 271.5,197.1 272.5,197.1 273.5,197.2 274.5,197.2 275.5,197.3 276.5,197.3 277.5,197.4 278.5,197.4 279.5,197.5 280.0,197.5 280.5,197.5 281.5,197.6 282.5,197.6 283.5,197.7 284.5,197.7 285.5,197.8 286.5,197.8 287.5,197.9 288.5,197.9 289.5,198.0 290.5,198.0 291.5,198.1 292.5,198.1 293.5,198.2 294.5,198.2 295.5,198.3 296.5,198.3 297.5,198.4 298.5,198.4 299.5,198.5 300.0,198.5 300.5,198.5 301.5,198.6 302.5,198.6 303.5,198.7 304.5,198.7 305.5,198.8 306.5,198.8 307.5,198.9 308.5,198.9 309.5,199.0 310.5,199.0 311.5,199.1 312.5,199.1 313.5,199.2 314.5,199.2 315.5,199.3"/>
<polyline points="40.5,177.5 41.5,177.6 42.5,177.6 43.5,177.7 44.5,177.7 45.5,177.8 46.5,177.8 47.5,177.8 48.5,177.9 49.5,177.9 50.5,178.0 51.5,178.0 52.5,178.1 53.5,178.1 54.5,178.2 55.5,178.2 56.5,178.2 57.5,178.3 58.5,178.3 59.5,178.4 60.5,178.4 61.5,178.5 61.5,178.5 62.5,178.6 63.5,178.6 64.5,178.7 65.5,178.8 66.5,178.8 67.5,178.9 68.5,179.0 69.5,179.1 70.5,179.1 71.5,179.2 72.5,179.3 73.5,179.3 74.5,179.4 75.5,179.5 75.9,179.5 76.5,179.6 77.5,179.7 78.5,179.8 79.5,179.9 80.5,180.0 81.5,180.1 82.5,180.2 83.5,180.3 84.5,180.4 85.1,180.5 85.5,180.5 86.5,180.7 87.5,180.8 88.5,180.9 89.5,181.0 90.5,181.1 91.5,181.2 92.5,181.3 93.5,181.4 94.2,181.5 94.5,181.5 95.5,181.6 96.5,181.8 97.5,181.9 98.5,182.0 99.5,182.1 100.5,182.3 101.5,182.4 102.2,182.5 102.5,182.5 103.5,182.7 104.5,182.8 105.5,182.9 106.5,183.1 107.5,183.2 108.5,183.3 109.5,183.5 109.9,183.5 110.5,183.6 111.5,183.7 112.5,183.8 113.5,184.0 114.5,184.1 115.5,184.2 116.5,184.4 117.3,184.5 117.5,184.5 118.5,184.7 119.5,184.9 120.5,185.0 121.5,185.2 122.5,185.3 123.5,185.5 123.5,185.5 124.5,185.7 125.5,185.8 126.5,186.0 127.5,186.1 128.5,186.3 129.5,186.5 129.8,186.5 130.5,186.6 131.5,186.8 132.5,186.9 133.5,187.1 134.5,187.3 135.5,187.4 136.0,187.5 136.5,187.6 137.5,187.8 138.5,188.0 139.5,188.2 140.5,188.4 141.0,188.5 141.5,188.6 142.5,188.8 143.5,189.0 144.5,189.2 145.5,189.4 146.0,189.5 146.5,189.6 147.5,189.8 148.5,190.0 149.5,190.2 150.5,190.4 151.0,190.5 151.5,190.6 152.5,190.8 153.5,191.0 154.5,191.2 155.5,191.4 156.0,191.5 156.5,191.6 157.5,191.8 158.5,192.1 159.5,192.3 160.4,192.5 160.5,192.5 161.5,192.7 162.5,193.0 163.5,193.2 164.5,193.4 164.9,193.5 165.5,193.6 166.5,193.9 167.5,194.1 168.5,194.3 169.3,194.5 169.5,194.5 170.5,194.8 171.5,195.0 172.5,195.2 173.5,195.4 173.8,195.5 174.5,195.7 175.5,195.9 176.5,196.2 177.5,196.5 177.5,196.5 178.5,196.9 179.5,197.2 180.3,197.5 180.5,197.6 181.5,197.9 182.5,198.3 183.1,198.5 183.5,198.6 184.5,199.0 185.5,199.3 186.0,199.5 186.5,199.7 187.5,200.0 188.5,200.4 188.8,200.5 189.5,200.7 190.5,201.0 191.5,201.2 192.5,201.4 193.1,201.5 193.5,201.6 194.5,201.8 195.5,202.0 196.5,202.2 197.5,202.3 198.3,202.5 198.5,202.5 199.5,202.7 200.5,202.9 201.5,203.1 202.5,203.3 203.4,203.5 203.5,203.5 204.5,203.7 205.5,203.9 206.5,204.1 207.5,204.2 208.5,204.3 209.5,204.5 209.8,204.5 210.5,204.6 211.5,204.7 212.5,204.9 213.5,205.0 214.5,205.1 215.5,205.3 216.5,205.4 217.3,205.5 217.5,205.5 218.5,205.7 219.5,205.8 220.5,205.9 221.5,206.1 222.5,206.2 223.5,206.3 224.5,206.5 224.8,206.5 225.5,206.6 226.5,206.7 227.5,206.9 228.5,207.0 229.5,207.1 230.5,207.3 231.5,207.5 231.6,207.5 232.5,207.7 233.5,207.9 234.5,208.1 235.5,208.2 236.5,208.4 236.8,208.5 237.5,208.6 238.5,208.8 239.5,209.0 240.5,209.2 241.5,209.4 242.1,209.5 242.5,209.6 243.5,209.8 244.5,210.0 245.5,210.1 246.5,210.3 247.4,210.5 247.5,210.5 248.5,210.7 249.5,210.9 250.5,211.1 251.5,211.2 252.5,211.4 253.1,211.5 253.5,211.6 254.5,211.7 255.5,211.9 256.5,212.0 257.5,212.2 258.5,212.4 259.4,212.5 259.5,212.5 260.5,212.7 261.5,212.8 262.5,213.0 263.5,213.2 264.5,213.3 265.5,213.5 265.6,213.5 266.5,213.6 267.5,213.8 268.5,214.0 269.5,214.1 270.5,214.3 271.5,214.4 272.1,214.5 272.5,214.5 273.5,214.7 274.5,214.8 275.5,215.0 276.5,215.1 277.5,215.2 278.5,215.4 279.3,215.5 279.5,215.5 280.5,215.7 281.5,215.8 282.5,215.9 283.5,216.1 284.5,216.2 285.5,216.4 286.4,216.5 286.5,216.5 287.5,216.6 288.5,216.8 289.5,216.9 290.5,217.1 291.5,217.2 292.5,217.3 293.5,217.4 293.9,217.5 294.5,217.6 295.5,217.7 296.5,217.8 297.5,218.0 298.5,218.1 299.5,218.2 300.5,218.3 301.5,218.5 301.8,218.5 302.5,218.6 303.5,218.7 304.5,218.8 305.5,219.0 306.5,219.1 307.5,219.2 308.5,219.3 309.5,219.5 309.7,219.5 310.5,219.6 311.5,219.7 312.5,219.9 313.5,220.0 314.5,220.1 315.5,220.2"/>
<polyline points="40.5,183.3 41.5,183.4 42.5,183.4 43.5,183.5 44.0,183.5 44.5,183.5 45.5,183.6 46.5,183.6 47.5,183.7 48.5,183.7 49.5,183.7 50.5,183.8 51.5,183.8 52.5,183.9 53.5,183.9 54.5,184.0 55.5,184.0 56.5,184.1 57.5,184.1 58.5,184.1 59.5,184.2 60.5,184.2 61.5,184.3 62.5,184.4 63.5,184.5 63.7,184.5 64.5,184.6 65.5,184.7 66.5,184.7 67.5,184.8 68.5,184.9 69.5,185.0 70.5,185.1 71.5,185.1 72.5,185.2 73.5,185.3 74.5,185.4 75.5,185.5 76.0,185.5 76.5,185.5 77.5,185.6 78.5,185.8 79.5,185.9 80.5,185.9 81.5,186.0 82.5,186.1 83.5,186.2 84.5,186.3 85.5,186.5 86.0,186.5 86.5,186.6 87.5,186.7 88.5,186.8 89.5,186.9 90.5,187.0 91.5,187.1 92.5,187.1 93.5,187.2 94.5,187.3 95.5,187.4 96.0,187.5 96.5,187.6 97.5,187.7 98.5,187.8 99.5,187.9 100.5,188.1 101.5,188.2 102.5,188.3 103.5,188.4 104.0,188.5 104.5,188.6 105.5,188.7 106.5,188.8 107.5,188.9 108.5,189.1 109.5,189.2 110.5,189.3 111.5,189.4 112.0,189.5 112.5,189.6 113.5,189.7 114.5,189.8 115.5,189.9 116.5,190.1 117.5,190.3 118.5,190.4 118.9,190.5 119.5,190.6 120.5,190.8 121.5,191.0 122.5,191.1 123.5,191.3 124.5,191.5 124.6,191.5 125.5,191.7 126.5,191.8 127.5,192.0 128.5,192.2 129.5,192.4 130.3,192.5 130.5,192.5 131.5,192.7 132.5,192.9 133.5,193.1 134.5,193.2 135.5,193.4 136.0,193.5 136.5,193.6 137.5,193.8 138.5,193.9 139.5,194.1 140.5,194.3 141.5,194.5 141.7,194.5 142.5,194.6 143.5,194.8 144.5,195.0 145.5,195.2 146.5,195.3 147.4,195.5 147.5,195.5 148.5,195.7 149.5,195.9 150.5,196.0 151.5,196.2 152.5,196.4 153.2,196.5 153.5,196.6 154.5,196.7 155.5,196.9 156.5,197.1 157.5,197.4 157.9,197.5 158.5,197.7 159.5,198.0 160.5,198.2 161.5,198.5 161.5,198.5 162.5,198.8 163.5,199.1 164.5,199.3 165.1,199.5 165.5,199.6 166.5,199.9 167.5,200.2 168.5,200.4 168.7,200.5 169.5,200.7 170.5,201.0 171.5,201.3 172.4,201.5 172.5,201.5 173.5,201.8 174.5,202.1 175.5,202.4 176.0,202.5 176.5,202.6 177.5,203.0 178.5,203.3 179.1,203.5 179.5,203.6 180.5,203.9 181.5,204.3 182.2,204.5 182.5,204.6 183.5,204.9 184.5,205.2 185.3,205.5 185.5,205.6 186.5,205.9 187.5,206.2 188.4,206.5 188.5,206.5 189.5,206.8 190.5,207.1 191.5,207.4 191.8,207.5 192.5,207.7 193.5,208.0 194.5,208.3 195.3,208.5 195.5,208.5 196.5,208.8 197.5,209.1 198.5,209.4 198.9,209.5 199.5,209.7 200.5,209.9 201.5,210.2 202.4,210.5 202.5,210.5 203.5,210.8 204.5,211.1 205.5,211.4 206.0,211.5 206.5,211.6 207.5,211.8 208.5,212.0 209.5,212.3 210.5,212.5 210.5,212.5 211.5,212.7 212.5,212.9 213.5,213.2 214.5,213.4 215.1,213.5 215.5,213.6 216.5,213.8 217.5,214.0 218.5,214.3 219.5,214.5 219.6,214.5 220.5,214.7 221.5,214.9 222.5,215.1 223.5,215.4 224.1,215.5 224.5,215.6 225.5,215.8 226.5,216.0 227.5,216.2 228.5,216.5 228.7,216.5 229.5,216.7 230.5,217.0 231.5,217.3 232.3,217.5 232.5,217.6 233.5,217.9 234.5,218.2 235.5,218.5 235.5,218.5 236.5,218.8 237.5,219.1 238.5,219.4 238.7,219.5 239.5,219.7 240.5,220.1 241.5,220.4 241.9,220.5 242.5,220.7 243.5,221.0 244.5,221.3 245.2,221.5 245.5,221.6 246.5,221.9 247.5,222.2 248.4,222.5 248.5,222.5 249.5,222.8 250.5,223.1 251.5,223.4 252.0,223.5 252.5,223.6 253.5,223.9 254.5,224.1 255.5,224.3 256.1,224.5 256.5,224.6 257.5,224.8 258.5,225.1 259.5,225.3 260.2,225.5 260.5,225.6 261.5,225.8 262.5,226.1 263.5,226.3 264.3,226.5 264.5,226.6 265.5,226.8 266.5,227.0 267.5,227.3 268.4,227.5 268.5,227.5 269.5,227.8 270.5,228.0 271.5,228.3 272.5,228.5 272.5,228.5 273.5,228.7 274.5,229.0 275.5,229.2 276.5,229.5 276.7,229.5 277.5,229.7 278.5,229.9 279.5,230.2 280.5,230.4 280.8,230.5 281.5,230.7 282.5,230.9 283.5,231.1 284.5,231.4 285.0,231.5 285.5,231.6 286.5,231.9 287.5,232.1 288.5,232.3 289.2,232.5 289.5,232.6 290.5,232.8 291.5,233.1 292.5,233.3 293.4,233.5 293.5,233.5 294.5,233.8 295.5,234.0 296.5,234.2 297.5,234.5 297.5,234.5 298.5,234.7 299.5,235.0 300.5,235.2 301.5,235.4 301.7,235.5 302.5,235.7 303.5,235.9 304.5,236.2 305.5,236.4 305.9,236.5 306.5,236.6 307.5,236.9 308.5,237.1 309.5,237.3 310.1,237.5 310.5,237.6 311.5,237.8 312.5,238.1 313.5,238.3 314.3,238.5 314.5,238.6 315.5,238.8"/>
<polyline points="40.5,189.9 41.5,189.9 42.5,190.0 43.5,190.0 44.5,190.0 45.5,190.1 46.5,190.1 47.5,190.1 48.5,190.2 49.5,190.2 50.5,190.2 51.5,190.2 52.5,190.2 53.5,190.3 54.5,190.3 55.5,190.4 56.5,190.4 57.5,190.4 58.5,190.5 59.5,190.5 60.0,190.5 60.5,190.5 61.5,190.6 62.5,190.6 63.5,190.6 64.5,190.7 65.5,190.8 66.5,190.8 67.5,190.9 68.5,190.9 69.5,191.0 70.5,191.0 71.5,191.1 72.5,191.1 73.5,191.2 74.5,191.2 75.5,191.2 76.5,191.3 77.5,191.4 78.4,191.5 78.5,191.5 79.5,191.6 80.5,191.7 81.5,191.8 82.5,191.9 83.5,191.9 84.5,192.0 85.5,192.1 86.5,192.2 87.5,192.3 88.5,192.3 89.5,192.4 90.2,192.5 90.5,192.5 91.5,192.6 92.5,192.7 93.5,192.8 94.5,192.9 95.5,193.0 96.5,193.1 97.5,193.2 98.5,193.3 99.5,193.4 100.4,193.5 100.5,193.5 101.5,193.6 102.5,193.7 103.5,193.9 104.5,194.0 105.5,194.1 106.5,194.2 107.5,194.3 108.5,194.4 109.1,194.5 109.5,194.5 110.5,194.7 111.5,194.8 112.5,194.9 113.5,195.0 114.5,195.1 115.5,195.2 116.5,195.4 117.4,195.5 117.5,195.5 118.5,195.7 119.5,195.8 120.5,196.0 121.5,196.1 122.5,196.3 123.5,196.4 124.1,196.5 124.5,196.6 125.5,196.7 126.5,196.9 127.5,197.0 128.5,197.2 129.5,197.3 130.5,197.5 130.6,197.5 131.5,197.6 132.5,197.8 133.5,197.9 134.5,198.1 135.5,198.2 136.5,198.4 137.2,198.5 137.5,198.6 138.5,198.8 139.5,199.0 140.5,199.1 141.5,199.3 142.5,199.5 142.5,199.5 143.5,199.7 144.5,199.9 145.5,200.1 146.5,200.2 147.5,200.4 148.0,200.5 148.5,200.6 149.5,200.8 150.5,201.0 151.5,201.2 152.5,201.4 153.3,201.5 153.5,201.5 154.5,201.7 155.5,201.9 156.5,202.1 157.5,202.4 157.8,202.5 158.5,202.7 159.5,202.9 160.5,203.2 161.5,203.5 161.5,203.5 162.5,203.8 163.5,204.1 164.5,204.3 165.1,204.5 165.5,204.6 166.5,204.9 167.5,205.2 168.5,205.4 168.7,205.5 169.5,205.7 170.5,206.0 171.5,206.3 172.4,206.5 172.5,206.5 173.5,206.8 174.5,207.1 175.5,207.4 176.0,207.5 176.5,207.7 177.5,208.1 178.5,208.4 178.7,208.5 179.5,208.8 180.5,209.2 181.4,209.5 181.5,209.5 182.5,209.9 183.5,210.3 184.1,210.5 184.5,210.6 185.5,211.0 186.5,211.4 186.8,211.5 187.5,211.8 188.5,212.2 189.4,212.5 189.5,212.5 190.5,212.9 191.5,213.2 192.5,213.5 192.7,213.5 193.5,213.8 194.5,214.0 195.5,214.3 196.0,214.5 196.5,214.6 197.5,214.9 198.5,215.2 199.3,215.5 199.5,215.5 200.5,215.9 201.5,216.2 202.5,216.5 202.7,216.5 203.5,216.8 204.5,217.1 205.5,217.3 206.0,217.5 206.5,217.7 207.5,218.0 208.5,218.4 208.9,218.5 209.5,218.7 210.5,219.1 211.5,219.4 211.8,219.5 212.5,219.7 213.5,220.1 214.5,220.4 214.7,220.5 215.5,220.8 216.5,221.1 217.5,221.5 217.6,221.5 218.5,221.8 219.5,222.2 220.5,222.5 220.5,222.5 221.5,222.8 222.5,223.2 223.4,223.5 223.5,223.5 224.5,223.9 225.5,224.2 226.2,224.5 226.5,224.6 227.5,224.9 228.5,225.3 229.1,225.5 229.5,225.6 230.5,226.0 231.5,226.3 232.1,226.5 232.5,226.6 233.5,227.0 234.5,227.3 235.0,227.5 235.5,227.7 236.5,228.0 237.5,228.3 237.9,228.5 238.5,228.7 239.5,229.0 240.5,229.4 240.9,229.5 241.5,229.7 242.5,230.0 243.5,230.4 243.8,230.5 244.5,230.7 245.5,231.1 246.5,231.4 246.8,231.5 247.5,231.7 248.5,232.1 249.5,232.4 249.7,232.5 250.5,232.8 251.5,233.1 252.5,233.4 252.7,233.5 253.5,233.8 254.5,234.1 255.5,234.4 255.8,234.5 256.5,234.7 257.5,235.1 258.5,235.4 258.8,235.5 259.5,235.7 260.5,236.1 261.5,236.4 261.8,236.5 262.5,236.7 263.5,237.1 264.5,237.4 264.9,237.5 265.5,237.7 266.5,238.0 267.5,238.4 267.9,238.5 268.5,238.7 269.5,239.0 270.5,239.4 270.9,239.5 271.5,239.7 272.5,240.0 273.5,240.4 273.9,240.5 274.5,240.7 275.5,241.0 276.5,241.4 276.9,241.5 277.5,241.7 278.5,242.0 279.5,242.4 279.9,242.5 280.5,242.7 281.5,243.0 282.5,243.4 282.9,243.5 283.5,243.7 284.5,244.1 285.5,244.4 285.8,244.5 286.5,244.7 287.5,245.1 288.5,245.4 288.8,245.5 289.5,245.7 290.5,246.1 291.5,246.4 291.8,246.5 292.5,246.7 293.5,247.0 294.5,247.4 294.9,247.5 295.5,247.7 296.5,248.0 297.5,248.4 298.0,248.5 298.5,248.7 299.5,249.0 300.5,249.3 301.0,249.5 301.5,249.7 302.5,250.0 303.5,250.3 304.1,250.5 304.5,250.6 305.5,251.0 306.5,251.3 307.1,251.5 307.5,251.6 308.5,251.9 309.5,252.3 310.2,252.5 310.5,252.6 311.5,252.9 312.5,253.3 313.2,253.5 313.5,253.6 314.5,253.9 315.5,254.2"/>
</g>
<defs><clipPath id="pc"><rect x="39.5" y="2.9" width="276.1" height="267.5"/></clipPath></defs>
<g clip-path="url(#pc)"><circle cx="175.9" cy="104.8" r="2.2" fill="#ffffff" stroke="#505050" stroke-width="0.8"/><circle cx="201.0" cy="115.7" r="2.2" fill="#ffffff" stroke="#505050" stroke-width="0.8"/><circle cx="219.7" cy="123.1" r="2.2" fill="#ffffff" stroke="#505050" stroke-width="0.8"/><circle cx="221.8" cy="139.8" r="2.2" fill="#ffffff" stroke="#505050" stroke-width="0.8"/><circle cx="182.1" cy="151.3" r="2.2" fill="#ffffff" stroke="#505050" stroke-width="0.8"/><circle cx="175.2" cy="167.1" r="2.2" fill="#ffffff" stroke="#505050" stroke-width="0.8"/><circle cx="147.2" cy="168.5" r="2.2" fill="#ffffff" stroke="#505050" stroke-width="0.8"/><circle cx="122.0" cy="189.1" r="2.2" fill="#ffffff" stroke="#505050" stroke-width="0.8"/><circle cx="233.2" cy="105.8" r="2.2" fill="#787878" stroke="#3a3a48" stroke-width="0.8"/><circle cx="252.2" cy="115.2" r="2.2" fill="#787878" stroke="#3a3a48" stroke-width="0.8"/><circle cx="261.0" cy="129.6" r="2.2" fill="#787878" stroke="#3a3a48" stroke-width="0.8"/><circle cx="255.1" cy="152.6" r="2.2" fill="#787878" stroke="#3a3a48" stroke-width="0.8"/><circle cx="232.4" cy="176.5" r="2.2" fill="#787878" stroke="#3a3a48" stroke-width="0.8"/><circle cx="211.1" cy="180.3" r="2.2" fill="#787878" stroke="#3a3a48" stroke-width="0.8"/><circle cx="142.2" cy="172.9" r="2.2" fill="#787878" stroke="#3a3a48" stroke-width="0.8"/><circle cx="116.9" cy="225.0" r="2.2" fill="#787878" stroke="#3a3a48" stroke-width="0.8"/><circle cx="286.7" cy="116.6" r="2.2" fill="#ff0000" stroke="#402030" stroke-width="0.8"/><circle cx="309.2" cy="125.2" r="2.2" fill="#ff0000" stroke="#402030" stroke-width="0.8"/><circle cx="315.4" cy="150.1" r="2.2" fill="#ff0000" stroke="#402030" stroke-width="0.8"/><circle cx="307.1" cy="168.5" r="2.2" fill="#ff0000" stroke="#402030" stroke-width="0.8"/><circle cx="272.2" cy="183.7" r="2.2" fill="#ff0000" stroke="#402030" stroke-width="0.8"/><circle cx="247.3" cy="200.0" r="2.2" fill="#ff0000" stroke="#402030" stroke-width="0.8"/><circle cx="190.3" cy="187.8" r="2.2" fill="#ff0000" stroke="#402030" stroke-width="0.8"/><circle cx="155.9" cy="208.7" r="2.2" fill="#ff0000" stroke="#402030" stroke-width="0.8"/></g>
<rect x="39.5" y="2.9" width="276.1" height="267.5" fill="none" stroke="#222" stroke-width="1"/>
<path d="M82.5 3.4v2.6M82.5 269.9v-2.6M130.2 3.4v2.6M130.2 269.9v-2.6M177.6 3.4v2.6M177.6 269.9v-2.6M225.7 3.4v2.6M225.7 269.9v-2.6M273.6 3.4v2.6M273.6 269.9v-2.6M40 39.9h2.6M315.1 39.9h-2.6M40 86.0h2.6M315.1 86.0h-2.6M40 132.1h2.6M315.1 132.1h-2.6M40 178.2h2.6M315.1 178.2h-2.6M40 224.2h2.6M315.1 224.2h-2.6" stroke="#222" stroke-width="1" fill="none"/>
<g font-size="11.5"><text x="163.5" y="100.0" fill="#ffffff">Sc</text><text x="200.7" y="109.8" fill="#ffffff">Ti</text><text x="208.4" y="128.4" fill="#ffffff">V</text><text x="207.6" y="146.9" fill="#ffffff">Cr</text><text x="184.3" y="160.4" fill="#ffffff">Fe</text><text x="178.8" y="175.2" fill="#ffffff">Co</text><text x="137.6" y="164.0" fill="#ffffff">Ni</text><text x="104.5" y="196.3" fill="#ffffff">Cu</text><text x="224.3" y="103.2" fill="#4e4e5a">Y</text><text x="253.8" y="110.9" fill="#4e4e5a">Zr</text><text x="262.1" y="142.2" fill="#4e4e5a">Nb</text><text x="234.4" y="152.0" fill="#4e4e5a">Mo</text><text x="232.8" y="188.6" fill="#4e4e5a">Ru</text><text x="210.8" y="193.4" fill="#4e4e5a">Rh</text><text x="140.2" y="188.3" fill="#4e4e5a">Pd</text><text x="98.7" y="220.5" fill="#4e4e5a">Ag</text><text x="273.6" y="110.9" fill="#ff0a0a">Hf</text><text x="299.1" y="119.7" fill="#ff0a0a">Ta</text><text x="301.0" y="149.2" fill="#ff0a0a">W</text><text x="287.4" y="165.3" fill="#ff0a0a">Re</text><text x="279.5" y="187.0" fill="#ff0a0a">Os</text><text x="251.1" y="212.9" fill="#ff0a0a">Ir</text><text x="174.4" y="194.2" fill="#ff0a0a">Pt</text><text x="152.0" y="222.1" fill="#ff0a0a">Au</text></g>
<g font-size="12" fill="#000"><text x="83.1" y="286.4" text-anchor="middle">2</text><text x="130.0" y="286.4" text-anchor="middle">4</text><text x="177.4" y="286.4" text-anchor="middle">6</text><text x="226.6" y="286.4" text-anchor="middle">8</text><text x="274.6" y="286.4" text-anchor="middle">10</text><text x="33.2" y="43.3" text-anchor="end">4</text><text x="33.2" y="89.4" text-anchor="end">2</text><text x="33.2" y="135.5" text-anchor="end">0</text><text x="33.2" y="181.6" text-anchor="end">-2</text><text x="33.2" y="227.7" text-anchor="end">-4</text><text x="33.2" y="273.8" text-anchor="end">-6</text></g>
<rect x="345.8" y="22.8" width="13.2" height="247.5" fill="none" stroke="#333" stroke-width="0.6"/>
<path d="M359 23.3h-2.5M359 50.2h-2.5M359 77.1h-2.5M359 104.0h-2.5M359 130.9h-2.5M359 157.8h-2.5M359 184.7h-2.5M359 211.6h-2.5M359 238.5h-2.5M359 265.4h-2.5" stroke="#222" stroke-width="0.8"/>
<g font-size="12" fill="#000"><text x="365.3" y="28.6">0.0</text><text x="363.0" y="55.5">-0.3</text><text x="363.0" y="82.4">-0.6</text><text x="363.0" y="109.3">-0.9</text><text x="363.0" y="136.2">-1.2</text><text x="363.0" y="163.1">-1.5</text><text x="363.0" y="190.0">-1.8</text><text x="363.0" y="216.9">-2.1</text><text x="363.0" y="243.8">-2.4</text><text x="363.0" y="270.7">-2.7</text></g>
<text x="350.2" y="12.6" font-size="13.5" fill="#000">[eV]</text>
<text fill="#000"><tspan x="151.6" y="307.1" font-size="15">W</tspan><tspan x="167.6" y="309.5" font-size="10.5">d</tspan><tspan x="176.3" y="307.1" font-size="14.5">[eV]</tspan></text>
<text transform="translate(15.6,157.9) rotate(-90)" fill="#000"><tspan x="0" y="0" font-size="15">ε</tspan><tspan x="10.2" y="2.5" font-size="10.5">d</tspan><tspan x="18.6" y="0" font-size="14.5">[eV]</tspan></text>
</svg>
</body></html>
